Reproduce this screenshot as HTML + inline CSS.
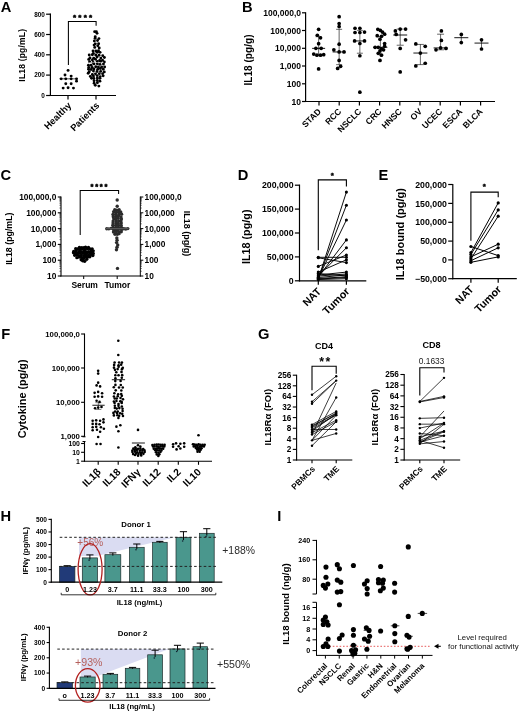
<!DOCTYPE html><html><head><meta charset="utf-8"><title>Figure</title>
<style>html,body{margin:0;padding:0;background:#fff}svg{display:block}text{font-family:'Liberation Sans', Arial, sans-serif}</style></head><body>
<svg width="520" height="712" viewBox="0 0 520 712" font-family='"Liberation Sans", Arial, sans-serif'>
<rect width="520" height="712" fill="#fff"/>
<text x="0.80" y="11.80" font-size="14.7" font-weight="bold" text-anchor="start" fill="#000" >A</text>
<line x1="50.40" y1="13.60" x2="50.40" y2="96.10" stroke="#000" stroke-width="1.2" />
<line x1="46.10" y1="14.20" x2="50.40" y2="14.20" stroke="#000" stroke-width="1.2" />
<text x="44.90" y="16.50" font-size="6.4" font-weight="bold" text-anchor="end" fill="#000" >800</text>
<line x1="46.10" y1="34.50" x2="50.40" y2="34.50" stroke="#000" stroke-width="1.2" />
<text x="44.90" y="36.80" font-size="6.4" font-weight="bold" text-anchor="end" fill="#000" >600</text>
<line x1="46.10" y1="54.80" x2="50.40" y2="54.80" stroke="#000" stroke-width="1.2" />
<text x="44.90" y="57.10" font-size="6.4" font-weight="bold" text-anchor="end" fill="#000" >400</text>
<line x1="46.10" y1="75.10" x2="50.40" y2="75.10" stroke="#000" stroke-width="1.2" />
<text x="44.90" y="77.40" font-size="6.4" font-weight="bold" text-anchor="end" fill="#000" >200</text>
<line x1="46.10" y1="95.50" x2="50.40" y2="95.50" stroke="#000" stroke-width="1.2" />
<text x="44.90" y="97.80" font-size="6.4" font-weight="bold" text-anchor="end" fill="#000" >0</text>
<line x1="49.80" y1="95.50" x2="116.00" y2="95.50" stroke="#000" stroke-width="1.2" />
<line x1="68.00" y1="95.50" x2="68.00" y2="99.50" stroke="#000" stroke-width="1.2" />
<line x1="96.00" y1="95.50" x2="96.00" y2="99.50" stroke="#000" stroke-width="1.2" />
<text x="25.00" y="55.20" font-size="8.5" font-weight="bold" text-anchor="middle" fill="#000" transform="rotate(-90 25.00 55.20)" letter-spacing="0.2">IL18 (pg/mL)</text>
<text x="72.00" y="106.00" font-size="9.4" font-weight="bold" text-anchor="end" fill="#000" transform="rotate(-45 72.00 106.00)" >Healthy</text>
<text x="100.00" y="106.00" font-size="9.4" font-weight="bold" text-anchor="end" fill="#000" transform="rotate(-45 100.00 106.00)" >Patients</text>
<polyline points="68.40,65.00 68.40,21.40 96.10,21.40 96.10,25.80" fill="none" stroke="#000" stroke-width="1.05" />
<text x="74.60" y="20.00" font-size="8" font-weight="bold" text-anchor="middle" fill="#000" stroke="#000" stroke-width="0.5">*</text>
<text x="79.90" y="20.00" font-size="8" font-weight="bold" text-anchor="middle" fill="#000" stroke="#000" stroke-width="0.5">*</text>
<text x="85.20" y="20.00" font-size="8" font-weight="bold" text-anchor="middle" fill="#000" stroke="#000" stroke-width="0.5">*</text>
<text x="90.50" y="20.00" font-size="8" font-weight="bold" text-anchor="middle" fill="#000" stroke="#000" stroke-width="0.5">*</text>
<circle cx="68.08" cy="70.38" r="1.45" fill="#000"/>
<circle cx="65.00" cy="75.00" r="1.45" fill="#000"/>
<circle cx="71.15" cy="76.08" r="1.45" fill="#000"/>
<circle cx="61.15" cy="78.85" r="1.45" fill="#000"/>
<circle cx="65.77" cy="78.85" r="1.45" fill="#000"/>
<circle cx="71.15" cy="78.85" r="1.45" fill="#000"/>
<circle cx="76.54" cy="78.85" r="1.45" fill="#000"/>
<circle cx="76.54" cy="81.15" r="1.45" fill="#000"/>
<circle cx="65.77" cy="83.77" r="1.45" fill="#000"/>
<circle cx="71.15" cy="83.77" r="1.45" fill="#000"/>
<circle cx="63.15" cy="88.08" r="1.45" fill="#000"/>
<circle cx="68.08" cy="87.77" r="1.45" fill="#000"/>
<circle cx="73.46" cy="88.08" r="1.45" fill="#000"/>
<line x1="59.62" y1="78.85" x2="77.62" y2="78.85" stroke="#000" stroke-width="0.7" />
<circle cx="94.64" cy="31.66" r="1.45" fill="#000"/>
<circle cx="96.37" cy="31.75" r="1.45" fill="#000"/>
<circle cx="97.03" cy="33.34" r="1.45" fill="#000"/>
<circle cx="95.21" cy="36.77" r="1.45" fill="#000"/>
<circle cx="95.12" cy="38.28" r="1.45" fill="#000"/>
<circle cx="98.94" cy="38.61" r="1.45" fill="#000"/>
<circle cx="94.34" cy="40.97" r="1.45" fill="#000"/>
<circle cx="97.54" cy="40.51" r="1.45" fill="#000"/>
<circle cx="95.33" cy="43.87" r="1.45" fill="#000"/>
<circle cx="98.62" cy="43.69" r="1.45" fill="#000"/>
<circle cx="94.06" cy="45.09" r="1.45" fill="#000"/>
<circle cx="97.77" cy="45.83" r="1.45" fill="#000"/>
<circle cx="94.73" cy="47.39" r="1.45" fill="#000"/>
<circle cx="99.24" cy="48.01" r="1.45" fill="#000"/>
<circle cx="93.05" cy="50.93" r="1.45" fill="#000"/>
<circle cx="95.91" cy="50.99" r="1.45" fill="#000"/>
<circle cx="98.46" cy="50.82" r="1.45" fill="#000"/>
<circle cx="93.33" cy="53.36" r="1.45" fill="#000"/>
<circle cx="97.28" cy="52.19" r="1.45" fill="#000"/>
<circle cx="100.05" cy="52.35" r="1.45" fill="#000"/>
<circle cx="89.24" cy="55.01" r="1.45" fill="#000"/>
<circle cx="92.37" cy="54.82" r="1.45" fill="#000"/>
<circle cx="95.71" cy="54.94" r="1.45" fill="#000"/>
<circle cx="99.01" cy="55.22" r="1.45" fill="#000"/>
<circle cx="102.71" cy="55.67" r="1.45" fill="#000"/>
<circle cx="89.99" cy="58.05" r="1.45" fill="#000"/>
<circle cx="93.71" cy="58.14" r="1.45" fill="#000"/>
<circle cx="97.07" cy="56.98" r="1.45" fill="#000"/>
<circle cx="100.81" cy="58.10" r="1.45" fill="#000"/>
<circle cx="104.39" cy="57.55" r="1.45" fill="#000"/>
<circle cx="88.71" cy="59.40" r="1.45" fill="#000"/>
<circle cx="92.43" cy="59.90" r="1.45" fill="#000"/>
<circle cx="95.48" cy="59.19" r="1.45" fill="#000"/>
<circle cx="99.65" cy="60.49" r="1.45" fill="#000"/>
<circle cx="102.49" cy="60.22" r="1.45" fill="#000"/>
<circle cx="89.60" cy="61.66" r="1.45" fill="#000"/>
<circle cx="93.09" cy="62.53" r="1.45" fill="#000"/>
<circle cx="97.27" cy="61.51" r="1.45" fill="#000"/>
<circle cx="100.62" cy="61.51" r="1.45" fill="#000"/>
<circle cx="104.33" cy="61.91" r="1.45" fill="#000"/>
<circle cx="88.44" cy="65.17" r="1.45" fill="#000"/>
<circle cx="91.12" cy="65.20" r="1.45" fill="#000"/>
<circle cx="93.98" cy="63.91" r="1.45" fill="#000"/>
<circle cx="97.33" cy="63.84" r="1.45" fill="#000"/>
<circle cx="99.98" cy="64.37" r="1.45" fill="#000"/>
<circle cx="103.45" cy="64.02" r="1.45" fill="#000"/>
<circle cx="88.78" cy="67.36" r="1.45" fill="#000"/>
<circle cx="92.11" cy="67.49" r="1.45" fill="#000"/>
<circle cx="95.76" cy="66.68" r="1.45" fill="#000"/>
<circle cx="98.39" cy="66.88" r="1.45" fill="#000"/>
<circle cx="101.64" cy="66.98" r="1.45" fill="#000"/>
<circle cx="104.63" cy="67.02" r="1.45" fill="#000"/>
<circle cx="88.54" cy="69.21" r="1.45" fill="#000"/>
<circle cx="91.07" cy="69.51" r="1.45" fill="#000"/>
<circle cx="93.92" cy="68.92" r="1.45" fill="#000"/>
<circle cx="97.70" cy="69.23" r="1.45" fill="#000"/>
<circle cx="100.31" cy="68.52" r="1.45" fill="#000"/>
<circle cx="103.22" cy="69.31" r="1.45" fill="#000"/>
<circle cx="89.25" cy="71.71" r="1.45" fill="#000"/>
<circle cx="93.45" cy="70.93" r="1.45" fill="#000"/>
<circle cx="97.03" cy="71.50" r="1.45" fill="#000"/>
<circle cx="100.66" cy="71.34" r="1.45" fill="#000"/>
<circle cx="104.28" cy="71.88" r="1.45" fill="#000"/>
<circle cx="88.18" cy="73.28" r="1.45" fill="#000"/>
<circle cx="92.35" cy="74.55" r="1.45" fill="#000"/>
<circle cx="95.45" cy="73.84" r="1.45" fill="#000"/>
<circle cx="99.32" cy="73.65" r="1.45" fill="#000"/>
<circle cx="102.61" cy="73.64" r="1.45" fill="#000"/>
<circle cx="90.31" cy="76.38" r="1.45" fill="#000"/>
<circle cx="93.47" cy="76.08" r="1.45" fill="#000"/>
<circle cx="97.17" cy="75.59" r="1.45" fill="#000"/>
<circle cx="100.20" cy="76.58" r="1.45" fill="#000"/>
<circle cx="103.17" cy="75.86" r="1.45" fill="#000"/>
<circle cx="91.58" cy="78.23" r="1.45" fill="#000"/>
<circle cx="93.91" cy="78.51" r="1.45" fill="#000"/>
<circle cx="97.37" cy="78.04" r="1.45" fill="#000"/>
<circle cx="99.95" cy="78.37" r="1.45" fill="#000"/>
<circle cx="94.05" cy="80.86" r="1.45" fill="#000"/>
<circle cx="97.26" cy="80.49" r="1.45" fill="#000"/>
<circle cx="99.92" cy="81.16" r="1.45" fill="#000"/>
<circle cx="94.12" cy="83.23" r="1.45" fill="#000"/>
<circle cx="97.39" cy="82.77" r="1.45" fill="#000"/>
<circle cx="95.28" cy="85.22" r="1.45" fill="#000"/>
<circle cx="98.85" cy="86.12" r="1.45" fill="#000"/>
<line x1="89.00" y1="62.50" x2="103.50" y2="62.50" stroke="#ddd" stroke-width="0.5" />
<text x="242.00" y="11.70" font-size="14.7" font-weight="bold" text-anchor="start" fill="#000" >B</text>
<line x1="305.60" y1="12.20" x2="305.60" y2="102.10" stroke="#000" stroke-width="1.2" />
<line x1="302.00" y1="12.80" x2="305.60" y2="12.80" stroke="#000" stroke-width="1.2" />
<text x="301.00" y="15.86" font-size="8.5" font-weight="bold" text-anchor="end" fill="#000" >100,000,0</text>
<line x1="302.00" y1="30.50" x2="305.60" y2="30.50" stroke="#000" stroke-width="1.2" />
<text x="301.00" y="33.56" font-size="8.5" font-weight="bold" text-anchor="end" fill="#000" >100,000</text>
<line x1="302.00" y1="48.30" x2="305.60" y2="48.30" stroke="#000" stroke-width="1.2" />
<text x="301.00" y="51.36" font-size="8.5" font-weight="bold" text-anchor="end" fill="#000" >10,000</text>
<line x1="302.00" y1="66.00" x2="305.60" y2="66.00" stroke="#000" stroke-width="1.2" />
<text x="301.00" y="69.06" font-size="8.5" font-weight="bold" text-anchor="end" fill="#000" >1,000</text>
<line x1="302.00" y1="83.80" x2="305.60" y2="83.80" stroke="#000" stroke-width="1.2" />
<text x="301.00" y="86.86" font-size="8.5" font-weight="bold" text-anchor="end" fill="#000" >100</text>
<line x1="302.00" y1="101.50" x2="305.60" y2="101.50" stroke="#000" stroke-width="1.2" />
<text x="301.00" y="104.56" font-size="8.5" font-weight="bold" text-anchor="end" fill="#000" >10</text>
<line x1="305.00" y1="101.50" x2="495.00" y2="101.50" stroke="#000" stroke-width="1.2" />
<line x1="319.00" y1="101.50" x2="319.00" y2="105.50" stroke="#000" stroke-width="1.2" />
<text x="321.60" y="112.00" font-size="8.6" font-weight="bold" text-anchor="end" fill="#000" transform="rotate(-45 321.60 112.00)" >STAD</text>
<line x1="339.20" y1="101.50" x2="339.20" y2="105.50" stroke="#000" stroke-width="1.2" />
<text x="341.80" y="112.00" font-size="8.6" font-weight="bold" text-anchor="end" fill="#000" transform="rotate(-45 341.80 112.00)" >RCC</text>
<line x1="359.40" y1="101.50" x2="359.40" y2="105.50" stroke="#000" stroke-width="1.2" />
<text x="362.00" y="112.00" font-size="8.6" font-weight="bold" text-anchor="end" fill="#000" transform="rotate(-45 362.00 112.00)" >NSCLC</text>
<line x1="379.60" y1="101.50" x2="379.60" y2="105.50" stroke="#000" stroke-width="1.2" />
<text x="382.20" y="112.00" font-size="8.6" font-weight="bold" text-anchor="end" fill="#000" transform="rotate(-45 382.20 112.00)" >CRC</text>
<line x1="399.80" y1="101.50" x2="399.80" y2="105.50" stroke="#000" stroke-width="1.2" />
<text x="402.40" y="112.00" font-size="8.6" font-weight="bold" text-anchor="end" fill="#000" transform="rotate(-45 402.40 112.00)" >HNSC</text>
<line x1="420.00" y1="101.50" x2="420.00" y2="105.50" stroke="#000" stroke-width="1.2" />
<text x="422.60" y="112.00" font-size="8.6" font-weight="bold" text-anchor="end" fill="#000" transform="rotate(-45 422.60 112.00)" >OV</text>
<line x1="440.20" y1="101.50" x2="440.20" y2="105.50" stroke="#000" stroke-width="1.2" />
<text x="442.80" y="112.00" font-size="8.6" font-weight="bold" text-anchor="end" fill="#000" transform="rotate(-45 442.80 112.00)" >UCEC</text>
<line x1="460.40" y1="101.50" x2="460.40" y2="105.50" stroke="#000" stroke-width="1.2" />
<text x="463.00" y="112.00" font-size="8.6" font-weight="bold" text-anchor="end" fill="#000" transform="rotate(-45 463.00 112.00)" >ESCA</text>
<line x1="480.60" y1="101.50" x2="480.60" y2="105.50" stroke="#000" stroke-width="1.2" />
<text x="483.20" y="112.00" font-size="8.6" font-weight="bold" text-anchor="end" fill="#000" transform="rotate(-45 483.20 112.00)" >BLCA</text>
<text x="251.70" y="60.00" font-size="10.1" font-weight="bold" text-anchor="middle" fill="#000" transform="rotate(-90 251.70 60.00)" >IL18 (pg/g)</text>
<line x1="318.62" y1="36.73" x2="318.62" y2="55.14" stroke="#222" stroke-width="0.7" />
<line x1="312.12" y1="48.37" x2="325.12" y2="48.37" stroke="#000" stroke-width="0.9" />
<line x1="315.62" y1="36.73" x2="321.62" y2="36.73" stroke="#000" stroke-width="0.6" />
<line x1="315.62" y1="55.14" x2="321.62" y2="55.14" stroke="#000" stroke-width="0.6" />
<line x1="339.14" y1="29.33" x2="339.14" y2="64.66" stroke="#222" stroke-width="0.7" />
<line x1="332.64" y1="51.96" x2="345.64" y2="51.96" stroke="#000" stroke-width="0.9" />
<line x1="336.14" y1="29.33" x2="342.14" y2="29.33" stroke="#000" stroke-width="0.6" />
<line x1="336.14" y1="64.66" x2="342.14" y2="64.66" stroke="#000" stroke-width="0.6" />
<line x1="359.87" y1="30.39" x2="359.87" y2="53.23" stroke="#222" stroke-width="0.7" />
<line x1="353.87" y1="40.96" x2="365.87" y2="40.96" stroke="#000" stroke-width="0.9" />
<line x1="356.87" y1="30.39" x2="362.87" y2="30.39" stroke="#000" stroke-width="0.6" />
<line x1="356.87" y1="53.23" x2="362.87" y2="53.23" stroke="#000" stroke-width="0.6" />
<line x1="380.39" y1="36.73" x2="380.39" y2="54.71" stroke="#222" stroke-width="0.7" />
<line x1="373.39" y1="47.31" x2="387.39" y2="47.31" stroke="#000" stroke-width="0.9" />
<line x1="377.39" y1="36.73" x2="383.39" y2="36.73" stroke="#000" stroke-width="0.6" />
<line x1="377.39" y1="54.71" x2="383.39" y2="54.71" stroke="#000" stroke-width="0.6" />
<line x1="400.19" y1="29.08" x2="400.19" y2="45.23" stroke="#222" stroke-width="0.7" />
<line x1="393.19" y1="35.00" x2="407.19" y2="35.00" stroke="#000" stroke-width="0.9" />
<line x1="396.69" y1="29.08" x2="403.69" y2="29.08" stroke="#000" stroke-width="0.6" />
<line x1="396.69" y1="45.23" x2="403.69" y2="45.23" stroke="#000" stroke-width="0.6" />
<line x1="420.39" y1="44.43" x2="420.39" y2="64.62" stroke="#222" stroke-width="0.7" />
<line x1="413.39" y1="53.04" x2="427.39" y2="53.04" stroke="#000" stroke-width="0.9" />
<line x1="416.89" y1="44.43" x2="423.89" y2="44.43" stroke="#000" stroke-width="0.6" />
<line x1="416.89" y1="64.62" x2="423.89" y2="64.62" stroke="#000" stroke-width="0.6" />
<line x1="440.58" y1="34.19" x2="440.58" y2="49.81" stroke="#222" stroke-width="0.7" />
<line x1="433.58" y1="47.93" x2="447.58" y2="47.93" stroke="#000" stroke-width="0.9" />
<line x1="437.08" y1="34.19" x2="444.08" y2="34.19" stroke="#000" stroke-width="0.6" />
<line x1="437.08" y1="49.81" x2="444.08" y2="49.81" stroke="#000" stroke-width="0.6" />
<line x1="461.31" y1="34.46" x2="461.31" y2="42.54" stroke="#222" stroke-width="0.7" />
<line x1="454.31" y1="37.70" x2="468.31" y2="37.70" stroke="#000" stroke-width="0.9" />
<line x1="481.51" y1="39.85" x2="481.51" y2="49.00" stroke="#222" stroke-width="0.7" />
<line x1="474.51" y1="43.08" x2="488.51" y2="43.08" stroke="#000" stroke-width="0.9" />
<circle cx="318.62" cy="29.33" r="1.85" fill="#000"/>
<circle cx="317.35" cy="35.25" r="1.85" fill="#000"/>
<circle cx="320.52" cy="37.79" r="1.85" fill="#000"/>
<circle cx="318.62" cy="43.71" r="1.85" fill="#000"/>
<circle cx="315.87" cy="48.37" r="1.85" fill="#000"/>
<circle cx="321.16" cy="48.37" r="1.85" fill="#000"/>
<circle cx="313.75" cy="54.08" r="1.85" fill="#000"/>
<circle cx="316.92" cy="55.14" r="1.85" fill="#000"/>
<circle cx="320.52" cy="55.14" r="1.85" fill="#000"/>
<circle cx="323.69" cy="54.71" r="1.85" fill="#000"/>
<circle cx="318.62" cy="68.89" r="1.85" fill="#000"/>
<circle cx="339.14" cy="16.64" r="1.85" fill="#000"/>
<circle cx="339.14" cy="23.62" r="1.85" fill="#000"/>
<circle cx="339.14" cy="26.58" r="1.85" fill="#000"/>
<circle cx="339.14" cy="44.14" r="1.85" fill="#000"/>
<circle cx="333.85" cy="49.85" r="1.85" fill="#000"/>
<circle cx="339.14" cy="51.96" r="1.85" fill="#000"/>
<circle cx="344.00" cy="51.96" r="1.85" fill="#000"/>
<circle cx="339.14" cy="60.43" r="1.85" fill="#000"/>
<circle cx="337.66" cy="68.47" r="1.85" fill="#000"/>
<circle cx="340.62" cy="66.35" r="1.85" fill="#000"/>
<circle cx="355.00" cy="28.27" r="1.85" fill="#000"/>
<circle cx="359.87" cy="28.27" r="1.85" fill="#000"/>
<circle cx="355.00" cy="32.50" r="1.85" fill="#000"/>
<circle cx="359.87" cy="32.50" r="1.85" fill="#000"/>
<circle cx="364.52" cy="32.08" r="1.85" fill="#000"/>
<circle cx="354.58" cy="40.96" r="1.85" fill="#000"/>
<circle cx="359.87" cy="43.50" r="1.85" fill="#000"/>
<circle cx="364.52" cy="40.96" r="1.85" fill="#000"/>
<circle cx="359.87" cy="55.77" r="1.85" fill="#000"/>
<circle cx="359.87" cy="92.16" r="1.85" fill="#000"/>
<circle cx="377.85" cy="29.33" r="1.85" fill="#000"/>
<circle cx="380.39" cy="30.39" r="1.85" fill="#000"/>
<circle cx="382.50" cy="32.08" r="1.85" fill="#000"/>
<circle cx="384.62" cy="34.19" r="1.85" fill="#000"/>
<circle cx="377.22" cy="35.67" r="1.85" fill="#000"/>
<circle cx="381.45" cy="36.31" r="1.85" fill="#000"/>
<circle cx="379.97" cy="39.27" r="1.85" fill="#000"/>
<circle cx="384.62" cy="43.50" r="1.85" fill="#000"/>
<circle cx="375.10" cy="47.31" r="1.85" fill="#000"/>
<circle cx="378.27" cy="47.31" r="1.85" fill="#000"/>
<circle cx="381.45" cy="48.79" r="1.85" fill="#000"/>
<circle cx="384.62" cy="46.25" r="1.85" fill="#000"/>
<circle cx="379.97" cy="50.91" r="1.85" fill="#000"/>
<circle cx="383.56" cy="49.85" r="1.85" fill="#000"/>
<circle cx="378.27" cy="53.23" r="1.85" fill="#000"/>
<circle cx="381.45" cy="55.14" r="1.85" fill="#000"/>
<circle cx="379.97" cy="60.43" r="1.85" fill="#000"/>
<circle cx="395.35" cy="30.96" r="1.85" fill="#000"/>
<circle cx="400.19" cy="29.08" r="1.85" fill="#000"/>
<circle cx="405.58" cy="29.08" r="1.85" fill="#000"/>
<circle cx="396.16" cy="34.46" r="1.85" fill="#000"/>
<circle cx="405.58" cy="39.85" r="1.85" fill="#000"/>
<circle cx="400.19" cy="48.47" r="1.85" fill="#000"/>
<circle cx="400.19" cy="71.89" r="1.85" fill="#000"/>
<circle cx="415.81" cy="43.89" r="1.85" fill="#000"/>
<circle cx="425.23" cy="46.31" r="1.85" fill="#000"/>
<circle cx="420.39" cy="53.04" r="1.85" fill="#000"/>
<circle cx="415.81" cy="65.97" r="1.85" fill="#000"/>
<circle cx="425.23" cy="63.27" r="1.85" fill="#000"/>
<circle cx="441.39" cy="30.96" r="1.85" fill="#000"/>
<circle cx="441.39" cy="40.39" r="1.85" fill="#000"/>
<circle cx="436.00" cy="49.81" r="1.85" fill="#000"/>
<circle cx="440.58" cy="47.93" r="1.85" fill="#000"/>
<circle cx="445.97" cy="48.47" r="1.85" fill="#000"/>
<circle cx="461.31" cy="34.46" r="1.85" fill="#000"/>
<circle cx="461.31" cy="42.54" r="1.85" fill="#000"/>
<circle cx="481.51" cy="39.85" r="1.85" fill="#000"/>
<circle cx="481.51" cy="49.00" r="1.85" fill="#000"/>
<text x="0.50" y="179.70" font-size="14.7" font-weight="bold" text-anchor="start" fill="#000" >C</text>
<line x1="61.00" y1="196.45" x2="61.00" y2="276.55" stroke="#000" stroke-width="1.1" />
<line x1="57.80" y1="197.00" x2="61.00" y2="197.00" stroke="#000" stroke-width="1.1" />
<text x="56.30" y="200.01" font-size="8.35" font-weight="bold" text-anchor="end" fill="#000" >100,000,0</text>
<line x1="57.80" y1="212.80" x2="61.00" y2="212.80" stroke="#000" stroke-width="1.1" />
<text x="56.30" y="215.81" font-size="8.35" font-weight="bold" text-anchor="end" fill="#000" >100,000</text>
<line x1="57.80" y1="228.60" x2="61.00" y2="228.60" stroke="#000" stroke-width="1.1" />
<text x="56.30" y="231.61" font-size="8.35" font-weight="bold" text-anchor="end" fill="#000" >10,000</text>
<line x1="57.80" y1="244.40" x2="61.00" y2="244.40" stroke="#000" stroke-width="1.1" />
<text x="56.30" y="247.41" font-size="8.35" font-weight="bold" text-anchor="end" fill="#000" >1,000</text>
<line x1="57.80" y1="260.20" x2="61.00" y2="260.20" stroke="#000" stroke-width="1.1" />
<text x="56.30" y="263.21" font-size="8.35" font-weight="bold" text-anchor="end" fill="#000" >100</text>
<line x1="57.80" y1="276.00" x2="61.00" y2="276.00" stroke="#000" stroke-width="1.1" />
<text x="56.30" y="279.01" font-size="8.35" font-weight="bold" text-anchor="end" fill="#000" >10</text>
<line x1="60.50" y1="276.00" x2="140.80" y2="276.00" stroke="#000" stroke-width="1.1" />
<line x1="140.30" y1="196.50" x2="140.30" y2="276.50" stroke="#000" stroke-width="1" />
<line x1="140.30" y1="197.00" x2="143.30" y2="197.00" stroke="#000" stroke-width="1" />
<text x="144.50" y="200.00" font-size="8.35" font-weight="bold" text-anchor="start" fill="#000" >100,000,0</text>
<line x1="140.30" y1="212.80" x2="143.30" y2="212.80" stroke="#000" stroke-width="1" />
<text x="144.50" y="215.80" font-size="8.35" font-weight="bold" text-anchor="start" fill="#000" >100,000</text>
<line x1="140.30" y1="228.60" x2="143.30" y2="228.60" stroke="#000" stroke-width="1" />
<text x="144.50" y="231.60" font-size="8.35" font-weight="bold" text-anchor="start" fill="#000" >10,000</text>
<line x1="140.30" y1="244.40" x2="143.30" y2="244.40" stroke="#000" stroke-width="1" />
<text x="144.50" y="247.40" font-size="8.35" font-weight="bold" text-anchor="start" fill="#000" >1,000</text>
<line x1="140.30" y1="260.20" x2="143.30" y2="260.20" stroke="#000" stroke-width="1" />
<text x="144.50" y="263.20" font-size="8.35" font-weight="bold" text-anchor="start" fill="#000" >100</text>
<line x1="140.30" y1="276.00" x2="143.30" y2="276.00" stroke="#000" stroke-width="1" />
<text x="144.50" y="279.00" font-size="8.35" font-weight="bold" text-anchor="start" fill="#000" >10</text>
<line x1="61.00" y1="208.04" x2="59.40" y2="208.04" stroke="#000" stroke-width="0.5" />
<line x1="61.00" y1="205.26" x2="59.40" y2="205.26" stroke="#000" stroke-width="0.5" />
<line x1="61.00" y1="203.29" x2="59.40" y2="203.29" stroke="#000" stroke-width="0.5" />
<line x1="61.00" y1="201.76" x2="59.40" y2="201.76" stroke="#000" stroke-width="0.5" />
<line x1="61.00" y1="200.51" x2="59.40" y2="200.51" stroke="#000" stroke-width="0.5" />
<line x1="61.00" y1="199.45" x2="59.40" y2="199.45" stroke="#000" stroke-width="0.5" />
<line x1="61.00" y1="198.53" x2="59.40" y2="198.53" stroke="#000" stroke-width="0.5" />
<line x1="61.00" y1="197.72" x2="59.40" y2="197.72" stroke="#000" stroke-width="0.5" />
<line x1="61.00" y1="223.84" x2="59.40" y2="223.84" stroke="#000" stroke-width="0.5" />
<line x1="61.00" y1="221.06" x2="59.40" y2="221.06" stroke="#000" stroke-width="0.5" />
<line x1="61.00" y1="219.09" x2="59.40" y2="219.09" stroke="#000" stroke-width="0.5" />
<line x1="61.00" y1="217.56" x2="59.40" y2="217.56" stroke="#000" stroke-width="0.5" />
<line x1="61.00" y1="216.31" x2="59.40" y2="216.31" stroke="#000" stroke-width="0.5" />
<line x1="61.00" y1="215.25" x2="59.40" y2="215.25" stroke="#000" stroke-width="0.5" />
<line x1="61.00" y1="214.33" x2="59.40" y2="214.33" stroke="#000" stroke-width="0.5" />
<line x1="61.00" y1="213.52" x2="59.40" y2="213.52" stroke="#000" stroke-width="0.5" />
<line x1="61.00" y1="239.64" x2="59.40" y2="239.64" stroke="#000" stroke-width="0.5" />
<line x1="61.00" y1="236.86" x2="59.40" y2="236.86" stroke="#000" stroke-width="0.5" />
<line x1="61.00" y1="234.89" x2="59.40" y2="234.89" stroke="#000" stroke-width="0.5" />
<line x1="61.00" y1="233.36" x2="59.40" y2="233.36" stroke="#000" stroke-width="0.5" />
<line x1="61.00" y1="232.11" x2="59.40" y2="232.11" stroke="#000" stroke-width="0.5" />
<line x1="61.00" y1="231.05" x2="59.40" y2="231.05" stroke="#000" stroke-width="0.5" />
<line x1="61.00" y1="230.13" x2="59.40" y2="230.13" stroke="#000" stroke-width="0.5" />
<line x1="61.00" y1="229.32" x2="59.40" y2="229.32" stroke="#000" stroke-width="0.5" />
<line x1="61.00" y1="255.44" x2="59.40" y2="255.44" stroke="#000" stroke-width="0.5" />
<line x1="61.00" y1="252.66" x2="59.40" y2="252.66" stroke="#000" stroke-width="0.5" />
<line x1="61.00" y1="250.69" x2="59.40" y2="250.69" stroke="#000" stroke-width="0.5" />
<line x1="61.00" y1="249.16" x2="59.40" y2="249.16" stroke="#000" stroke-width="0.5" />
<line x1="61.00" y1="247.91" x2="59.40" y2="247.91" stroke="#000" stroke-width="0.5" />
<line x1="61.00" y1="246.85" x2="59.40" y2="246.85" stroke="#000" stroke-width="0.5" />
<line x1="61.00" y1="245.93" x2="59.40" y2="245.93" stroke="#000" stroke-width="0.5" />
<line x1="61.00" y1="245.12" x2="59.40" y2="245.12" stroke="#000" stroke-width="0.5" />
<line x1="61.00" y1="271.24" x2="59.40" y2="271.24" stroke="#000" stroke-width="0.5" />
<line x1="61.00" y1="268.46" x2="59.40" y2="268.46" stroke="#000" stroke-width="0.5" />
<line x1="61.00" y1="266.49" x2="59.40" y2="266.49" stroke="#000" stroke-width="0.5" />
<line x1="61.00" y1="264.96" x2="59.40" y2="264.96" stroke="#000" stroke-width="0.5" />
<line x1="61.00" y1="263.71" x2="59.40" y2="263.71" stroke="#000" stroke-width="0.5" />
<line x1="61.00" y1="262.65" x2="59.40" y2="262.65" stroke="#000" stroke-width="0.5" />
<line x1="61.00" y1="261.73" x2="59.40" y2="261.73" stroke="#000" stroke-width="0.5" />
<line x1="61.00" y1="260.92" x2="59.40" y2="260.92" stroke="#000" stroke-width="0.5" />
<line x1="140.30" y1="208.04" x2="141.90" y2="208.04" stroke="#000" stroke-width="0.5" />
<line x1="140.30" y1="205.26" x2="141.90" y2="205.26" stroke="#000" stroke-width="0.5" />
<line x1="140.30" y1="203.29" x2="141.90" y2="203.29" stroke="#000" stroke-width="0.5" />
<line x1="140.30" y1="201.76" x2="141.90" y2="201.76" stroke="#000" stroke-width="0.5" />
<line x1="140.30" y1="200.51" x2="141.90" y2="200.51" stroke="#000" stroke-width="0.5" />
<line x1="140.30" y1="199.45" x2="141.90" y2="199.45" stroke="#000" stroke-width="0.5" />
<line x1="140.30" y1="198.53" x2="141.90" y2="198.53" stroke="#000" stroke-width="0.5" />
<line x1="140.30" y1="197.72" x2="141.90" y2="197.72" stroke="#000" stroke-width="0.5" />
<line x1="140.30" y1="223.84" x2="141.90" y2="223.84" stroke="#000" stroke-width="0.5" />
<line x1="140.30" y1="221.06" x2="141.90" y2="221.06" stroke="#000" stroke-width="0.5" />
<line x1="140.30" y1="219.09" x2="141.90" y2="219.09" stroke="#000" stroke-width="0.5" />
<line x1="140.30" y1="217.56" x2="141.90" y2="217.56" stroke="#000" stroke-width="0.5" />
<line x1="140.30" y1="216.31" x2="141.90" y2="216.31" stroke="#000" stroke-width="0.5" />
<line x1="140.30" y1="215.25" x2="141.90" y2="215.25" stroke="#000" stroke-width="0.5" />
<line x1="140.30" y1="214.33" x2="141.90" y2="214.33" stroke="#000" stroke-width="0.5" />
<line x1="140.30" y1="213.52" x2="141.90" y2="213.52" stroke="#000" stroke-width="0.5" />
<line x1="140.30" y1="239.64" x2="141.90" y2="239.64" stroke="#000" stroke-width="0.5" />
<line x1="140.30" y1="236.86" x2="141.90" y2="236.86" stroke="#000" stroke-width="0.5" />
<line x1="140.30" y1="234.89" x2="141.90" y2="234.89" stroke="#000" stroke-width="0.5" />
<line x1="140.30" y1="233.36" x2="141.90" y2="233.36" stroke="#000" stroke-width="0.5" />
<line x1="140.30" y1="232.11" x2="141.90" y2="232.11" stroke="#000" stroke-width="0.5" />
<line x1="140.30" y1="231.05" x2="141.90" y2="231.05" stroke="#000" stroke-width="0.5" />
<line x1="140.30" y1="230.13" x2="141.90" y2="230.13" stroke="#000" stroke-width="0.5" />
<line x1="140.30" y1="229.32" x2="141.90" y2="229.32" stroke="#000" stroke-width="0.5" />
<line x1="140.30" y1="255.44" x2="141.90" y2="255.44" stroke="#000" stroke-width="0.5" />
<line x1="140.30" y1="252.66" x2="141.90" y2="252.66" stroke="#000" stroke-width="0.5" />
<line x1="140.30" y1="250.69" x2="141.90" y2="250.69" stroke="#000" stroke-width="0.5" />
<line x1="140.30" y1="249.16" x2="141.90" y2="249.16" stroke="#000" stroke-width="0.5" />
<line x1="140.30" y1="247.91" x2="141.90" y2="247.91" stroke="#000" stroke-width="0.5" />
<line x1="140.30" y1="246.85" x2="141.90" y2="246.85" stroke="#000" stroke-width="0.5" />
<line x1="140.30" y1="245.93" x2="141.90" y2="245.93" stroke="#000" stroke-width="0.5" />
<line x1="140.30" y1="245.12" x2="141.90" y2="245.12" stroke="#000" stroke-width="0.5" />
<line x1="140.30" y1="271.24" x2="141.90" y2="271.24" stroke="#000" stroke-width="0.5" />
<line x1="140.30" y1="268.46" x2="141.90" y2="268.46" stroke="#000" stroke-width="0.5" />
<line x1="140.30" y1="266.49" x2="141.90" y2="266.49" stroke="#000" stroke-width="0.5" />
<line x1="140.30" y1="264.96" x2="141.90" y2="264.96" stroke="#000" stroke-width="0.5" />
<line x1="140.30" y1="263.71" x2="141.90" y2="263.71" stroke="#000" stroke-width="0.5" />
<line x1="140.30" y1="262.65" x2="141.90" y2="262.65" stroke="#000" stroke-width="0.5" />
<line x1="140.30" y1="261.73" x2="141.90" y2="261.73" stroke="#000" stroke-width="0.5" />
<line x1="140.30" y1="260.92" x2="141.90" y2="260.92" stroke="#000" stroke-width="0.5" />
<line x1="83.70" y1="276.00" x2="83.70" y2="279.00" stroke="#000" stroke-width="1" />
<line x1="117.20" y1="276.00" x2="117.20" y2="279.00" stroke="#000" stroke-width="1" />
<text x="84.70" y="288.30" font-size="8.5" font-weight="bold" text-anchor="middle" fill="#000" >Serum</text>
<text x="117.40" y="288.30" font-size="8.5" font-weight="bold" text-anchor="middle" fill="#000" >Tumor</text>
<text x="12.20" y="238.70" font-size="8.8" font-weight="bold" text-anchor="middle" fill="#000" transform="rotate(-90 12.20 238.70)" >IL18 (pg/mL)</text>
<text x="184.00" y="233.50" font-size="9.0" font-weight="bold" text-anchor="middle" fill="#000" transform="rotate(90 184.00 233.50)" >IL18 (pg/g)</text>
<polyline points="80.20,235.00 80.20,190.50 118.60,190.50 118.60,194.00" fill="none" stroke="#000" stroke-width="1.05" />
<text x="92.00" y="189.00" font-size="7.5" font-weight="bold" text-anchor="middle" fill="#000" stroke="#000" stroke-width="0.5">*</text>
<text x="96.70" y="189.00" font-size="7.5" font-weight="bold" text-anchor="middle" fill="#000" stroke="#000" stroke-width="0.5">*</text>
<text x="101.30" y="189.00" font-size="7.5" font-weight="bold" text-anchor="middle" fill="#000" stroke="#000" stroke-width="0.5">*</text>
<text x="105.90" y="189.00" font-size="7.5" font-weight="bold" text-anchor="middle" fill="#000" stroke="#000" stroke-width="0.5">*</text>
<circle cx="79.40" cy="247.54" r="1.7" fill="#000"/>
<circle cx="81.74" cy="247.74" r="1.7" fill="#000"/>
<circle cx="83.89" cy="247.72" r="1.7" fill="#000"/>
<circle cx="85.52" cy="247.27" r="1.7" fill="#000"/>
<circle cx="88.45" cy="247.45" r="1.7" fill="#000"/>
<circle cx="75.71" cy="248.81" r="1.7" fill="#000"/>
<circle cx="77.74" cy="248.95" r="1.7" fill="#000"/>
<circle cx="80.17" cy="249.27" r="1.7" fill="#000"/>
<circle cx="82.12" cy="248.92" r="1.7" fill="#000"/>
<circle cx="84.71" cy="249.62" r="1.7" fill="#000"/>
<circle cx="87.48" cy="248.86" r="1.7" fill="#000"/>
<circle cx="89.88" cy="248.84" r="1.7" fill="#000"/>
<circle cx="92.11" cy="248.83" r="1.7" fill="#000"/>
<circle cx="73.70" cy="251.57" r="1.7" fill="#000"/>
<circle cx="76.27" cy="250.92" r="1.7" fill="#000"/>
<circle cx="79.29" cy="251.57" r="1.7" fill="#000"/>
<circle cx="81.13" cy="251.66" r="1.7" fill="#000"/>
<circle cx="83.73" cy="251.38" r="1.7" fill="#000"/>
<circle cx="85.86" cy="251.64" r="1.7" fill="#000"/>
<circle cx="88.65" cy="251.67" r="1.7" fill="#000"/>
<circle cx="91.21" cy="251.00" r="1.7" fill="#000"/>
<circle cx="93.19" cy="250.87" r="1.7" fill="#000"/>
<circle cx="73.52" cy="252.77" r="1.7" fill="#000"/>
<circle cx="75.84" cy="253.30" r="1.7" fill="#000"/>
<circle cx="77.80" cy="253.38" r="1.7" fill="#000"/>
<circle cx="80.27" cy="253.01" r="1.7" fill="#000"/>
<circle cx="82.85" cy="253.18" r="1.7" fill="#000"/>
<circle cx="84.65" cy="253.18" r="1.7" fill="#000"/>
<circle cx="87.16" cy="252.76" r="1.7" fill="#000"/>
<circle cx="89.58" cy="252.72" r="1.7" fill="#000"/>
<circle cx="91.60" cy="253.54" r="1.7" fill="#000"/>
<circle cx="93.21" cy="253.49" r="1.7" fill="#000"/>
<circle cx="74.70" cy="255.28" r="1.7" fill="#000"/>
<circle cx="76.64" cy="254.75" r="1.7" fill="#000"/>
<circle cx="79.00" cy="255.66" r="1.7" fill="#000"/>
<circle cx="81.23" cy="255.46" r="1.7" fill="#000"/>
<circle cx="84.04" cy="255.64" r="1.7" fill="#000"/>
<circle cx="85.80" cy="255.05" r="1.7" fill="#000"/>
<circle cx="88.16" cy="255.48" r="1.7" fill="#000"/>
<circle cx="90.05" cy="255.45" r="1.7" fill="#000"/>
<circle cx="92.83" cy="255.56" r="1.7" fill="#000"/>
<circle cx="76.90" cy="257.65" r="1.7" fill="#000"/>
<circle cx="79.09" cy="257.04" r="1.7" fill="#000"/>
<circle cx="81.65" cy="257.62" r="1.7" fill="#000"/>
<circle cx="83.57" cy="257.62" r="1.7" fill="#000"/>
<circle cx="85.88" cy="257.01" r="1.7" fill="#000"/>
<circle cx="87.84" cy="256.88" r="1.7" fill="#000"/>
<circle cx="89.79" cy="256.85" r="1.7" fill="#000"/>
<circle cx="81.18" cy="259.70" r="1.7" fill="#000"/>
<circle cx="83.43" cy="258.75" r="1.7" fill="#000"/>
<circle cx="86.76" cy="259.23" r="1.7" fill="#000"/>
<circle cx="82.72" cy="260.74" r="1.7" fill="#000"/>
<circle cx="84.68" cy="261.33" r="1.7" fill="#000"/>
<circle cx="117.20" cy="200.00" r="1.7" fill="#2b2b2b"/>
<circle cx="117.20" cy="206.30" r="1.7" fill="#2b2b2b"/>
<circle cx="114.76" cy="209.72" r="1.7" fill="#2b2b2b"/>
<circle cx="116.76" cy="210.22" r="1.7" fill="#2b2b2b"/>
<circle cx="119.13" cy="209.79" r="1.7" fill="#2b2b2b"/>
<circle cx="113.64" cy="211.63" r="1.7" fill="#2b2b2b"/>
<circle cx="116.13" cy="212.45" r="1.7" fill="#2b2b2b"/>
<circle cx="118.63" cy="212.29" r="1.7" fill="#2b2b2b"/>
<circle cx="120.71" cy="211.93" r="1.7" fill="#2b2b2b"/>
<circle cx="112.95" cy="214.54" r="1.7" fill="#2b2b2b"/>
<circle cx="115.69" cy="214.15" r="1.7" fill="#2b2b2b"/>
<circle cx="119.00" cy="214.55" r="1.7" fill="#2b2b2b"/>
<circle cx="121.58" cy="214.15" r="1.7" fill="#2b2b2b"/>
<circle cx="113.29" cy="216.63" r="1.7" fill="#2b2b2b"/>
<circle cx="115.88" cy="216.19" r="1.7" fill="#2b2b2b"/>
<circle cx="118.40" cy="216.05" r="1.7" fill="#2b2b2b"/>
<circle cx="120.98" cy="216.89" r="1.7" fill="#2b2b2b"/>
<circle cx="113.76" cy="218.73" r="1.7" fill="#2b2b2b"/>
<circle cx="115.90" cy="218.44" r="1.7" fill="#2b2b2b"/>
<circle cx="118.09" cy="218.37" r="1.7" fill="#2b2b2b"/>
<circle cx="121.38" cy="218.97" r="1.7" fill="#2b2b2b"/>
<circle cx="113.16" cy="221.09" r="1.7" fill="#2b2b2b"/>
<circle cx="116.17" cy="220.99" r="1.7" fill="#2b2b2b"/>
<circle cx="118.66" cy="221.06" r="1.7" fill="#2b2b2b"/>
<circle cx="120.96" cy="221.00" r="1.7" fill="#2b2b2b"/>
<circle cx="113.08" cy="222.99" r="1.7" fill="#2b2b2b"/>
<circle cx="116.17" cy="223.19" r="1.7" fill="#2b2b2b"/>
<circle cx="118.29" cy="223.45" r="1.7" fill="#2b2b2b"/>
<circle cx="121.25" cy="223.08" r="1.7" fill="#2b2b2b"/>
<circle cx="112.81" cy="225.25" r="1.7" fill="#2b2b2b"/>
<circle cx="115.65" cy="225.37" r="1.7" fill="#2b2b2b"/>
<circle cx="118.46" cy="225.52" r="1.7" fill="#2b2b2b"/>
<circle cx="121.25" cy="225.50" r="1.7" fill="#2b2b2b"/>
<circle cx="113.15" cy="227.54" r="1.7" fill="#2b2b2b"/>
<circle cx="116.14" cy="227.73" r="1.7" fill="#2b2b2b"/>
<circle cx="118.35" cy="227.74" r="1.7" fill="#2b2b2b"/>
<circle cx="121.47" cy="227.59" r="1.7" fill="#2b2b2b"/>
<circle cx="113.78" cy="230.06" r="1.7" fill="#2b2b2b"/>
<circle cx="115.92" cy="229.63" r="1.7" fill="#2b2b2b"/>
<circle cx="118.17" cy="229.94" r="1.7" fill="#2b2b2b"/>
<circle cx="121.54" cy="229.58" r="1.7" fill="#2b2b2b"/>
<circle cx="113.49" cy="232.02" r="1.7" fill="#2b2b2b"/>
<circle cx="116.13" cy="231.47" r="1.7" fill="#2b2b2b"/>
<circle cx="118.78" cy="231.88" r="1.7" fill="#2b2b2b"/>
<circle cx="121.27" cy="231.72" r="1.7" fill="#2b2b2b"/>
<circle cx="114.99" cy="234.27" r="1.7" fill="#2b2b2b"/>
<circle cx="117.34" cy="234.22" r="1.7" fill="#2b2b2b"/>
<circle cx="119.06" cy="233.66" r="1.7" fill="#2b2b2b"/>
<circle cx="106.78" cy="228.82" r="1.7" fill="#2b2b2b"/>
<circle cx="108.81" cy="228.85" r="1.7" fill="#2b2b2b"/>
<circle cx="111.09" cy="228.33" r="1.7" fill="#2b2b2b"/>
<circle cx="113.15" cy="228.48" r="1.7" fill="#2b2b2b"/>
<circle cx="115.10" cy="228.41" r="1.7" fill="#2b2b2b"/>
<circle cx="117.33" cy="228.45" r="1.7" fill="#2b2b2b"/>
<circle cx="119.40" cy="228.33" r="1.7" fill="#2b2b2b"/>
<circle cx="121.63" cy="228.60" r="1.7" fill="#2b2b2b"/>
<circle cx="123.80" cy="228.77" r="1.7" fill="#2b2b2b"/>
<circle cx="125.78" cy="229.02" r="1.7" fill="#2b2b2b"/>
<circle cx="127.80" cy="228.62" r="1.7" fill="#2b2b2b"/>
<circle cx="116.85" cy="238.00" r="1.7" fill="#2b2b2b"/>
<circle cx="117.06" cy="240.30" r="1.7" fill="#2b2b2b"/>
<circle cx="116.58" cy="242.60" r="1.7" fill="#2b2b2b"/>
<circle cx="117.73" cy="245.00" r="1.7" fill="#2b2b2b"/>
<circle cx="117.00" cy="247.30" r="1.7" fill="#2b2b2b"/>
<circle cx="116.46" cy="249.80" r="1.7" fill="#2b2b2b"/>
<circle cx="117.50" cy="268.40" r="1.7" fill="#2b2b2b"/>
<line x1="106.00" y1="228.70" x2="128.50" y2="228.70" stroke="#999" stroke-width="0.5" />
<text x="237.80" y="179.50" font-size="14.7" font-weight="bold" text-anchor="start" fill="#000" >D</text>
<line x1="299.50" y1="184.60" x2="299.50" y2="281.40" stroke="#000" stroke-width="1.2" />
<line x1="294.90" y1="185.20" x2="299.50" y2="185.20" stroke="#000" stroke-width="1.2" />
<text x="293.60" y="188.35" font-size="8.75" font-weight="bold" text-anchor="end" fill="#000" >200,000</text>
<line x1="294.90" y1="209.10" x2="299.50" y2="209.10" stroke="#000" stroke-width="1.2" />
<text x="293.60" y="212.25" font-size="8.75" font-weight="bold" text-anchor="end" fill="#000" >150,000</text>
<line x1="294.90" y1="233.00" x2="299.50" y2="233.00" stroke="#000" stroke-width="1.2" />
<text x="293.60" y="236.15" font-size="8.75" font-weight="bold" text-anchor="end" fill="#000" >100,000</text>
<line x1="294.90" y1="256.90" x2="299.50" y2="256.90" stroke="#000" stroke-width="1.2" />
<text x="293.60" y="260.05" font-size="8.75" font-weight="bold" text-anchor="end" fill="#000" >50,000</text>
<line x1="294.90" y1="280.80" x2="299.50" y2="280.80" stroke="#000" stroke-width="1.2" />
<text x="293.60" y="283.95" font-size="8.75" font-weight="bold" text-anchor="end" fill="#000" >0</text>
<line x1="298.90" y1="280.80" x2="366.30" y2="280.80" stroke="#000" stroke-width="1.2" />
<line x1="318.30" y1="280.80" x2="318.30" y2="284.80" stroke="#000" stroke-width="1.2" />
<line x1="346.40" y1="280.80" x2="346.40" y2="284.80" stroke="#000" stroke-width="1.2" />
<text x="321.70" y="292.10" font-size="10.5" font-weight="bold" text-anchor="end" fill="#000" transform="rotate(-45 321.70 292.10)" >NAT</text>
<text x="350.30" y="292.10" font-size="10.8" font-weight="bold" text-anchor="end" fill="#000" transform="rotate(-45 350.30 292.10)" >Tumor</text>
<text x="250.40" y="236.80" font-size="10.8" font-weight="bold" text-anchor="middle" fill="#000" transform="rotate(-90 250.40 236.80)" >IL18 (pg/g)</text>
<polyline points="318.30,250.30 318.30,179.90 346.40,179.90 346.40,186.50" fill="none" stroke="#000" stroke-width="1.1" />
<text x="332.30" y="177.90" font-size="8" font-weight="bold" text-anchor="middle" fill="#000" stroke="#000" stroke-width="0.4">*</text>
<line x1="318.30" y1="279.00" x2="346.40" y2="192.10" stroke="#000" stroke-width="0.95" />
<line x1="318.30" y1="278.50" x2="346.40" y2="205.20" stroke="#000" stroke-width="0.95" />
<line x1="318.30" y1="278.00" x2="346.40" y2="220.00" stroke="#000" stroke-width="0.95" />
<line x1="318.30" y1="277.00" x2="346.40" y2="239.90" stroke="#000" stroke-width="0.95" />
<line x1="318.30" y1="276.00" x2="346.40" y2="247.80" stroke="#000" stroke-width="0.95" />
<line x1="318.30" y1="257.30" x2="346.40" y2="257.30" stroke="#000" stroke-width="0.95" />
<line x1="318.30" y1="257.80" x2="346.40" y2="262.60" stroke="#000" stroke-width="0.95" />
<line x1="318.30" y1="266.40" x2="346.40" y2="255.00" stroke="#000" stroke-width="0.95" />
<line x1="318.30" y1="272.10" x2="346.40" y2="259.80" stroke="#000" stroke-width="0.95" />
<line x1="318.30" y1="275.00" x2="346.40" y2="272.10" stroke="#000" stroke-width="0.95" />
<line x1="318.30" y1="277.50" x2="346.40" y2="275.00" stroke="#000" stroke-width="0.95" />
<line x1="318.30" y1="278.50" x2="346.40" y2="276.80" stroke="#000" stroke-width="0.95" />
<line x1="318.30" y1="279.50" x2="346.40" y2="278.70" stroke="#000" stroke-width="0.95" />
<line x1="318.30" y1="279.00" x2="346.40" y2="277.50" stroke="#000" stroke-width="0.95" />
<line x1="318.30" y1="273.50" x2="346.40" y2="276.00" stroke="#000" stroke-width="0.95" />
<line x1="318.30" y1="276.00" x2="346.40" y2="274.00" stroke="#000" stroke-width="0.95" />
<circle cx="318.30" cy="257.30" r="1.55" fill="#000"/>
<circle cx="318.30" cy="257.80" r="1.55" fill="#000"/>
<circle cx="318.30" cy="266.40" r="1.55" fill="#000"/>
<circle cx="318.30" cy="279.50" r="1.55" fill="#000"/>
<circle cx="318.30" cy="272.10" r="1.55" fill="#000"/>
<circle cx="318.30" cy="273.50" r="1.55" fill="#000"/>
<circle cx="318.30" cy="275.00" r="1.55" fill="#000"/>
<circle cx="318.30" cy="276.00" r="1.55" fill="#000"/>
<circle cx="318.30" cy="277.00" r="1.55" fill="#000"/>
<circle cx="318.30" cy="278.00" r="1.55" fill="#000"/>
<circle cx="318.30" cy="278.50" r="1.55" fill="#000"/>
<circle cx="318.30" cy="277.50" r="1.55" fill="#000"/>
<circle cx="318.30" cy="279.00" r="1.55" fill="#000"/>
<circle cx="346.40" cy="192.10" r="1.55" fill="#000"/>
<circle cx="346.40" cy="257.30" r="1.55" fill="#000"/>
<circle cx="346.40" cy="259.80" r="1.55" fill="#000"/>
<circle cx="346.40" cy="262.60" r="1.55" fill="#000"/>
<circle cx="346.40" cy="205.20" r="1.55" fill="#000"/>
<circle cx="346.40" cy="239.90" r="1.55" fill="#000"/>
<circle cx="346.40" cy="272.10" r="1.55" fill="#000"/>
<circle cx="346.40" cy="274.00" r="1.55" fill="#000"/>
<circle cx="346.40" cy="275.00" r="1.55" fill="#000"/>
<circle cx="346.40" cy="276.80" r="1.55" fill="#000"/>
<circle cx="346.40" cy="277.50" r="1.55" fill="#000"/>
<circle cx="346.40" cy="278.70" r="1.55" fill="#000"/>
<circle cx="346.40" cy="247.80" r="1.55" fill="#000"/>
<circle cx="346.40" cy="276.00" r="1.55" fill="#000"/>
<circle cx="346.40" cy="220.00" r="1.55" fill="#000"/>
<circle cx="346.40" cy="255.00" r="1.55" fill="#000"/>
<text x="378.60" y="179.50" font-size="14.7" font-weight="bold" text-anchor="start" fill="#000" >E</text>
<line x1="452.80" y1="183.90" x2="452.80" y2="279.30" stroke="#000" stroke-width="1.2" />
<line x1="448.20" y1="184.50" x2="452.80" y2="184.50" stroke="#000" stroke-width="1.2" />
<text x="446.90" y="187.65" font-size="8.75" font-weight="bold" text-anchor="end" fill="#000" >200,000</text>
<line x1="448.20" y1="203.40" x2="452.80" y2="203.40" stroke="#000" stroke-width="1.2" />
<text x="446.90" y="206.55" font-size="8.75" font-weight="bold" text-anchor="end" fill="#000" >150,000</text>
<line x1="448.20" y1="222.30" x2="452.80" y2="222.30" stroke="#000" stroke-width="1.2" />
<text x="446.90" y="225.45" font-size="8.75" font-weight="bold" text-anchor="end" fill="#000" >100,000</text>
<line x1="448.20" y1="241.10" x2="452.80" y2="241.10" stroke="#000" stroke-width="1.2" />
<text x="446.90" y="244.25" font-size="8.75" font-weight="bold" text-anchor="end" fill="#000" >50,000</text>
<line x1="448.20" y1="259.90" x2="452.80" y2="259.90" stroke="#000" stroke-width="1.2" />
<text x="446.90" y="263.05" font-size="8.75" font-weight="bold" text-anchor="end" fill="#000" >0</text>
<line x1="448.20" y1="278.70" x2="452.80" y2="278.70" stroke="#000" stroke-width="1.2" />
<text x="446.90" y="281.85" font-size="8.75" font-weight="bold" text-anchor="end" fill="#000" >−50,000</text>
<line x1="452.20" y1="278.70" x2="516.80" y2="278.70" stroke="#000" stroke-width="1.2" />
<line x1="470.90" y1="278.70" x2="470.90" y2="282.70" stroke="#000" stroke-width="1.2" />
<line x1="498.20" y1="278.70" x2="498.20" y2="282.70" stroke="#000" stroke-width="1.2" />
<text x="474.30" y="290.00" font-size="10.5" font-weight="bold" text-anchor="end" fill="#000" transform="rotate(-45 474.30 290.00)" >NAT</text>
<text x="502.10" y="290.00" font-size="10.8" font-weight="bold" text-anchor="end" fill="#000" transform="rotate(-45 502.10 290.00)" >Tumor</text>
<text x="404.00" y="234.20" font-size="11.0" font-weight="bold" text-anchor="middle" fill="#000" transform="rotate(-90 404.00 234.20)" >IL18 bound (pg/g)</text>
<polyline points="470.90,240.80 470.90,192.10 498.20,192.10 498.20,197.20" fill="none" stroke="#000" stroke-width="1.1" />
<text x="484.30" y="189.30" font-size="8" font-weight="bold" text-anchor="middle" fill="#000" stroke="#000" stroke-width="0.4">*</text>
<line x1="470.90" y1="252.60" x2="498.20" y2="202.90" stroke="#000" stroke-width="1.0" />
<line x1="470.90" y1="254.50" x2="498.20" y2="209.90" stroke="#000" stroke-width="1.0" />
<line x1="470.90" y1="258.80" x2="498.20" y2="216.20" stroke="#000" stroke-width="1.0" />
<line x1="470.90" y1="246.50" x2="498.20" y2="255.60" stroke="#000" stroke-width="1.0" />
<line x1="470.90" y1="256.90" x2="498.20" y2="244.20" stroke="#000" stroke-width="1.0" />
<line x1="470.90" y1="260.70" x2="498.20" y2="247.80" stroke="#000" stroke-width="1.0" />
<line x1="470.90" y1="262.30" x2="498.20" y2="256.90" stroke="#000" stroke-width="1.0" />
<circle cx="470.90" cy="252.60" r="1.6" fill="#000"/>
<circle cx="498.20" cy="202.90" r="1.6" fill="#000"/>
<circle cx="470.90" cy="254.50" r="1.6" fill="#000"/>
<circle cx="498.20" cy="209.90" r="1.6" fill="#000"/>
<circle cx="470.90" cy="258.80" r="1.6" fill="#000"/>
<circle cx="498.20" cy="216.20" r="1.6" fill="#000"/>
<circle cx="470.90" cy="246.50" r="1.6" fill="#000"/>
<circle cx="498.20" cy="255.60" r="1.6" fill="#000"/>
<circle cx="470.90" cy="256.90" r="1.6" fill="#000"/>
<circle cx="498.20" cy="244.20" r="1.6" fill="#000"/>
<circle cx="470.90" cy="260.70" r="1.6" fill="#000"/>
<circle cx="498.20" cy="247.80" r="1.6" fill="#000"/>
<circle cx="470.90" cy="262.30" r="1.6" fill="#000"/>
<circle cx="498.20" cy="256.90" r="1.6" fill="#000"/>
<text x="1.30" y="339.00" font-size="14.7" font-weight="bold" text-anchor="start" fill="#000" >F</text>
<line x1="84.50" y1="333.50" x2="84.50" y2="436.80" stroke="#000" stroke-width="1.1" />
<line x1="84.50" y1="441.50" x2="84.50" y2="461.70" stroke="#000" stroke-width="1.1" />
<line x1="82.50" y1="436.80" x2="85.50" y2="436.80" stroke="#000" stroke-width="1.0" />
<line x1="82.50" y1="441.50" x2="85.50" y2="441.50" stroke="#000" stroke-width="1.0" />
<line x1="81.10" y1="334.00" x2="84.50" y2="334.00" stroke="#000" stroke-width="1.1" />
<text x="79.90" y="336.70" font-size="7.8" font-weight="bold" text-anchor="end" fill="#000" >100,000,0</text>
<line x1="81.10" y1="368.00" x2="84.50" y2="368.00" stroke="#000" stroke-width="1.1" />
<text x="79.90" y="370.70" font-size="7.8" font-weight="bold" text-anchor="end" fill="#000" >100,000</text>
<line x1="81.10" y1="402.30" x2="84.50" y2="402.30" stroke="#000" stroke-width="1.1" />
<text x="79.90" y="405.00" font-size="7.8" font-weight="bold" text-anchor="end" fill="#000" >10,000</text>
<line x1="81.10" y1="436.30" x2="84.50" y2="436.30" stroke="#000" stroke-width="1.1" />
<text x="79.90" y="439.00" font-size="7.8" font-weight="bold" text-anchor="end" fill="#000" >1,000</text>
<line x1="81.10" y1="443.50" x2="84.50" y2="443.50" stroke="#000" stroke-width="1.1" />
<text x="79.90" y="446.00" font-size="6.9" font-weight="bold" text-anchor="end" fill="#000" >100</text>
<line x1="81.10" y1="452.30" x2="84.50" y2="452.30" stroke="#000" stroke-width="1.1" />
<text x="79.90" y="454.80" font-size="6.9" font-weight="bold" text-anchor="end" fill="#000" >10</text>
<line x1="81.10" y1="461.20" x2="84.50" y2="461.20" stroke="#000" stroke-width="1.1" />
<text x="79.90" y="463.70" font-size="6.9" font-weight="bold" text-anchor="end" fill="#000" >1</text>
<line x1="84.00" y1="461.30" x2="212.00" y2="461.30" stroke="#000" stroke-width="1.1" />
<line x1="98.20" y1="461.30" x2="98.20" y2="464.80" stroke="#000" stroke-width="1.1" />
<text x="101.40" y="472.60" font-size="10.3" font-weight="bold" text-anchor="end" fill="#000" transform="rotate(-45 101.40 472.60)" >IL1β</text>
<line x1="118.20" y1="461.30" x2="118.20" y2="464.80" stroke="#000" stroke-width="1.1" />
<text x="121.40" y="472.60" font-size="10.3" font-weight="bold" text-anchor="end" fill="#000" transform="rotate(-45 121.40 472.60)" >IL18</text>
<line x1="138.00" y1="461.30" x2="138.00" y2="464.80" stroke="#000" stroke-width="1.1" />
<text x="141.20" y="472.60" font-size="10.3" font-weight="bold" text-anchor="end" fill="#000" transform="rotate(-45 141.20 472.60)" >IFNγ</text>
<line x1="158.20" y1="461.30" x2="158.20" y2="464.80" stroke="#000" stroke-width="1.1" />
<text x="161.40" y="472.60" font-size="10.3" font-weight="bold" text-anchor="end" fill="#000" transform="rotate(-45 161.40 472.60)" >IL12</text>
<line x1="178.30" y1="461.30" x2="178.30" y2="464.80" stroke="#000" stroke-width="1.1" />
<text x="181.50" y="472.60" font-size="10.3" font-weight="bold" text-anchor="end" fill="#000" transform="rotate(-45 181.50 472.60)" >IL2</text>
<line x1="198.50" y1="461.30" x2="198.50" y2="464.80" stroke="#000" stroke-width="1.1" />
<text x="201.70" y="472.60" font-size="10.3" font-weight="bold" text-anchor="end" fill="#000" transform="rotate(-45 201.70 472.60)" >IL10</text>
<text x="25.60" y="398.90" font-size="10.85" font-weight="bold" text-anchor="middle" fill="#000" transform="rotate(-90 25.60 398.90)" >Cytokine (pg/g)</text>
<circle cx="98.16" cy="370.86" r="1.3" fill="#000"/>
<circle cx="98.16" cy="373.61" r="1.3" fill="#000"/>
<circle cx="98.16" cy="382.65" r="1.3" fill="#000"/>
<circle cx="96.59" cy="385.40" r="1.3" fill="#000"/>
<circle cx="100.12" cy="386.39" r="1.3" fill="#000"/>
<circle cx="94.62" cy="392.87" r="1.3" fill="#000"/>
<circle cx="98.16" cy="391.89" r="1.3" fill="#000"/>
<circle cx="102.09" cy="393.26" r="1.3" fill="#000"/>
<circle cx="94.62" cy="396.80" r="1.3" fill="#000"/>
<circle cx="98.16" cy="396.40" r="1.3" fill="#000"/>
<circle cx="102.09" cy="396.80" r="1.3" fill="#000"/>
<circle cx="96.59" cy="400.73" r="1.3" fill="#000"/>
<circle cx="99.53" cy="401.91" r="1.3" fill="#000"/>
<circle cx="98.16" cy="407.60" r="1.3" fill="#000"/>
<circle cx="101.50" cy="407.01" r="1.3" fill="#000"/>
<circle cx="95.02" cy="408.19" r="1.3" fill="#000"/>
<circle cx="92.66" cy="420.77" r="1.3" fill="#000"/>
<circle cx="96.19" cy="420.37" r="1.3" fill="#000"/>
<circle cx="100.12" cy="420.77" r="1.3" fill="#000"/>
<circle cx="103.46" cy="419.39" r="1.3" fill="#000"/>
<circle cx="92.66" cy="423.91" r="1.3" fill="#000"/>
<circle cx="96.19" cy="423.91" r="1.3" fill="#000"/>
<circle cx="99.53" cy="424.30" r="1.3" fill="#000"/>
<circle cx="103.46" cy="422.34" r="1.3" fill="#000"/>
<circle cx="92.66" cy="427.25" r="1.3" fill="#000"/>
<circle cx="96.19" cy="426.86" r="1.3" fill="#000"/>
<circle cx="100.91" cy="427.25" r="1.3" fill="#000"/>
<circle cx="92.66" cy="430.20" r="1.3" fill="#000"/>
<circle cx="96.98" cy="429.80" r="1.3" fill="#000"/>
<circle cx="103.86" cy="428.82" r="1.3" fill="#000"/>
<circle cx="100.12" cy="431.77" r="1.3" fill="#000"/>
<circle cx="98.16" cy="437.07" r="1.3" fill="#000"/>
<circle cx="96.59" cy="443.95" r="1.3" fill="#000"/>
<circle cx="100.52" cy="443.95" r="1.3" fill="#000"/>
<line x1="92.36" y1="405.25" x2="104.66" y2="405.25" stroke="#000" stroke-width="0.9" />
<line x1="98.36" y1="402.65" x2="98.36" y2="409.45" stroke="#000" stroke-width="0.5" />
<line x1="95.36" y1="402.65" x2="101.36" y2="402.65" stroke="#000" stroke-width="0.5" />
<line x1="95.36" y1="409.45" x2="101.36" y2="409.45" stroke="#000" stroke-width="0.5" />
<circle cx="118.30" cy="340.81" r="1.3" fill="#000"/>
<circle cx="118.30" cy="354.95" r="1.3" fill="#000"/>
<circle cx="114.61" cy="362.57" r="1.3" fill="#000"/>
<circle cx="119.06" cy="362.46" r="1.3" fill="#000"/>
<circle cx="121.91" cy="362.60" r="1.3" fill="#000"/>
<circle cx="114.13" cy="364.91" r="1.3" fill="#000"/>
<circle cx="118.53" cy="365.25" r="1.3" fill="#000"/>
<circle cx="121.17" cy="364.66" r="1.3" fill="#000"/>
<circle cx="113.96" cy="367.67" r="1.3" fill="#000"/>
<circle cx="118.65" cy="366.75" r="1.3" fill="#000"/>
<circle cx="122.77" cy="367.86" r="1.3" fill="#000"/>
<circle cx="114.98" cy="369.84" r="1.3" fill="#000"/>
<circle cx="117.68" cy="369.12" r="1.3" fill="#000"/>
<circle cx="121.95" cy="369.17" r="1.3" fill="#000"/>
<circle cx="116.28" cy="372.22" r="1.3" fill="#000"/>
<circle cx="121.50" cy="371.89" r="1.3" fill="#000"/>
<circle cx="115.32" cy="375.22" r="1.3" fill="#000"/>
<circle cx="118.55" cy="375.20" r="1.3" fill="#000"/>
<circle cx="122.19" cy="375.15" r="1.3" fill="#000"/>
<circle cx="115.43" cy="378.36" r="1.3" fill="#000"/>
<circle cx="121.78" cy="377.80" r="1.3" fill="#000"/>
<circle cx="115.27" cy="381.08" r="1.3" fill="#000"/>
<circle cx="120.62" cy="380.88" r="1.3" fill="#000"/>
<circle cx="115.42" cy="384.92" r="1.3" fill="#000"/>
<circle cx="120.80" cy="385.05" r="1.3" fill="#000"/>
<circle cx="113.80" cy="387.25" r="1.3" fill="#000"/>
<circle cx="119.04" cy="387.56" r="1.3" fill="#000"/>
<circle cx="122.76" cy="387.48" r="1.3" fill="#000"/>
<circle cx="115.72" cy="390.34" r="1.3" fill="#000"/>
<circle cx="121.31" cy="390.50" r="1.3" fill="#000"/>
<circle cx="114.36" cy="393.22" r="1.3" fill="#000"/>
<circle cx="118.14" cy="394.31" r="1.3" fill="#000"/>
<circle cx="121.24" cy="394.05" r="1.3" fill="#000"/>
<circle cx="113.91" cy="396.56" r="1.3" fill="#000"/>
<circle cx="117.72" cy="396.27" r="1.3" fill="#000"/>
<circle cx="121.81" cy="395.83" r="1.3" fill="#000"/>
<circle cx="114.74" cy="398.55" r="1.3" fill="#000"/>
<circle cx="116.74" cy="398.52" r="1.3" fill="#000"/>
<circle cx="120.53" cy="398.05" r="1.3" fill="#000"/>
<circle cx="123.01" cy="399.22" r="1.3" fill="#000"/>
<circle cx="113.90" cy="401.56" r="1.3" fill="#000"/>
<circle cx="116.43" cy="400.97" r="1.3" fill="#000"/>
<circle cx="120.29" cy="401.27" r="1.3" fill="#000"/>
<circle cx="121.63" cy="401.69" r="1.3" fill="#000"/>
<circle cx="114.59" cy="402.96" r="1.3" fill="#000"/>
<circle cx="118.50" cy="403.95" r="1.3" fill="#000"/>
<circle cx="121.70" cy="403.04" r="1.3" fill="#000"/>
<circle cx="114.85" cy="405.69" r="1.3" fill="#000"/>
<circle cx="118.48" cy="405.85" r="1.3" fill="#000"/>
<circle cx="121.82" cy="406.55" r="1.3" fill="#000"/>
<circle cx="114.85" cy="408.01" r="1.3" fill="#000"/>
<circle cx="116.74" cy="408.60" r="1.3" fill="#000"/>
<circle cx="119.31" cy="408.12" r="1.3" fill="#000"/>
<circle cx="122.55" cy="408.72" r="1.3" fill="#000"/>
<circle cx="115.13" cy="411.43" r="1.3" fill="#000"/>
<circle cx="117.75" cy="411.44" r="1.3" fill="#000"/>
<circle cx="122.59" cy="411.02" r="1.3" fill="#000"/>
<circle cx="113.44" cy="412.88" r="1.3" fill="#000"/>
<circle cx="116.97" cy="413.06" r="1.3" fill="#000"/>
<circle cx="120.08" cy="413.22" r="1.3" fill="#000"/>
<circle cx="122.21" cy="413.84" r="1.3" fill="#000"/>
<circle cx="113.88" cy="415.41" r="1.3" fill="#000"/>
<circle cx="117.35" cy="415.28" r="1.3" fill="#000"/>
<circle cx="119.16" cy="415.87" r="1.3" fill="#000"/>
<circle cx="122.98" cy="415.94" r="1.3" fill="#000"/>
<circle cx="118.40" cy="418.02" r="1.3" fill="#000"/>
<circle cx="120.36" cy="425.28" r="1.3" fill="#000"/>
<circle cx="116.43" cy="426.66" r="1.3" fill="#000"/>
<circle cx="118.40" cy="431.18" r="1.3" fill="#000"/>
<circle cx="118.40" cy="447.49" r="1.3" fill="#000"/>
<line x1="111.80" y1="379.71" x2="125.10" y2="379.71" stroke="#000" stroke-width="0.9" />
<circle cx="138.00" cy="429.90" r="1.3" fill="#000"/>
<circle cx="138.00" cy="445.20" r="1.3" fill="#000"/>
<line x1="131.90" y1="443.00" x2="144.90" y2="443.00" stroke="#000" stroke-width="0.9" />
<circle cx="135.37" cy="447.33" r="1.3" fill="#000"/>
<circle cx="140.32" cy="446.61" r="1.3" fill="#000"/>
<circle cx="133.36" cy="448.66" r="1.3" fill="#000"/>
<circle cx="135.61" cy="448.44" r="1.3" fill="#000"/>
<circle cx="138.17" cy="448.76" r="1.3" fill="#000"/>
<circle cx="140.40" cy="448.59" r="1.3" fill="#000"/>
<circle cx="143.23" cy="449.08" r="1.3" fill="#000"/>
<circle cx="132.39" cy="450.55" r="1.3" fill="#000"/>
<circle cx="134.77" cy="450.11" r="1.3" fill="#000"/>
<circle cx="136.86" cy="450.01" r="1.3" fill="#000"/>
<circle cx="139.81" cy="450.56" r="1.3" fill="#000"/>
<circle cx="142.26" cy="450.02" r="1.3" fill="#000"/>
<circle cx="144.48" cy="450.39" r="1.3" fill="#000"/>
<circle cx="132.44" cy="451.96" r="1.3" fill="#000"/>
<circle cx="135.02" cy="451.76" r="1.3" fill="#000"/>
<circle cx="137.17" cy="452.29" r="1.3" fill="#000"/>
<circle cx="139.80" cy="452.29" r="1.3" fill="#000"/>
<circle cx="142.10" cy="452.33" r="1.3" fill="#000"/>
<circle cx="144.65" cy="451.98" r="1.3" fill="#000"/>
<circle cx="133.11" cy="454.12" r="1.3" fill="#000"/>
<circle cx="135.85" cy="453.73" r="1.3" fill="#000"/>
<circle cx="138.42" cy="454.09" r="1.3" fill="#000"/>
<circle cx="140.92" cy="453.90" r="1.3" fill="#000"/>
<circle cx="143.43" cy="453.87" r="1.3" fill="#000"/>
<circle cx="135.07" cy="454.96" r="1.3" fill="#000"/>
<circle cx="138.08" cy="455.69" r="1.3" fill="#000"/>
<circle cx="141.23" cy="455.48" r="1.3" fill="#000"/>
<circle cx="152.44" cy="444.94" r="1.3" fill="#000"/>
<circle cx="154.56" cy="444.76" r="1.3" fill="#000"/>
<circle cx="156.70" cy="444.55" r="1.3" fill="#000"/>
<circle cx="158.68" cy="444.52" r="1.3" fill="#000"/>
<circle cx="160.62" cy="444.79" r="1.3" fill="#000"/>
<circle cx="162.45" cy="444.92" r="1.3" fill="#000"/>
<circle cx="164.60" cy="444.87" r="1.3" fill="#000"/>
<circle cx="153.01" cy="446.45" r="1.3" fill="#000"/>
<circle cx="154.46" cy="446.48" r="1.3" fill="#000"/>
<circle cx="156.69" cy="446.42" r="1.3" fill="#000"/>
<circle cx="158.33" cy="446.84" r="1.3" fill="#000"/>
<circle cx="160.48" cy="446.57" r="1.3" fill="#000"/>
<circle cx="162.50" cy="446.50" r="1.3" fill="#000"/>
<circle cx="164.28" cy="446.42" r="1.3" fill="#000"/>
<circle cx="153.77" cy="448.68" r="1.3" fill="#000"/>
<circle cx="155.85" cy="448.73" r="1.3" fill="#000"/>
<circle cx="157.42" cy="448.55" r="1.3" fill="#000"/>
<circle cx="159.23" cy="448.28" r="1.3" fill="#000"/>
<circle cx="161.16" cy="448.70" r="1.3" fill="#000"/>
<circle cx="163.17" cy="448.63" r="1.3" fill="#000"/>
<circle cx="155.23" cy="450.27" r="1.3" fill="#000"/>
<circle cx="157.00" cy="450.37" r="1.3" fill="#000"/>
<circle cx="159.22" cy="450.23" r="1.3" fill="#000"/>
<circle cx="161.46" cy="450.48" r="1.3" fill="#000"/>
<circle cx="156.00" cy="452.19" r="1.3" fill="#000"/>
<circle cx="158.42" cy="452.59" r="1.3" fill="#000"/>
<circle cx="160.48" cy="452.04" r="1.3" fill="#000"/>
<circle cx="156.77" cy="454.42" r="1.3" fill="#000"/>
<circle cx="159.37" cy="454.33" r="1.3" fill="#000"/>
<circle cx="158.34" cy="455.89" r="1.3" fill="#000"/>
<circle cx="173.10" cy="444.22" r="1.3" fill="#000"/>
<circle cx="176.04" cy="443.36" r="1.3" fill="#000"/>
<circle cx="180.36" cy="443.70" r="1.3" fill="#000"/>
<circle cx="184.17" cy="443.36" r="1.3" fill="#000"/>
<circle cx="173.10" cy="446.82" r="1.3" fill="#000"/>
<circle cx="178.63" cy="446.30" r="1.3" fill="#000"/>
<circle cx="184.17" cy="446.82" r="1.3" fill="#000"/>
<circle cx="176.56" cy="449.41" r="1.3" fill="#000"/>
<circle cx="180.36" cy="448.55" r="1.3" fill="#000"/>
<circle cx="198.50" cy="435.20" r="1.3" fill="#000"/>
<circle cx="192.95" cy="444.31" r="1.3" fill="#000"/>
<circle cx="194.58" cy="444.57" r="1.3" fill="#000"/>
<circle cx="196.50" cy="444.80" r="1.3" fill="#000"/>
<circle cx="198.57" cy="444.38" r="1.3" fill="#000"/>
<circle cx="200.44" cy="444.68" r="1.3" fill="#000"/>
<circle cx="202.61" cy="444.68" r="1.3" fill="#000"/>
<circle cx="204.68" cy="444.78" r="1.3" fill="#000"/>
<circle cx="193.73" cy="446.41" r="1.3" fill="#000"/>
<circle cx="195.45" cy="446.29" r="1.3" fill="#000"/>
<circle cx="197.54" cy="446.01" r="1.3" fill="#000"/>
<circle cx="199.79" cy="446.43" r="1.3" fill="#000"/>
<circle cx="201.74" cy="446.16" r="1.3" fill="#000"/>
<circle cx="203.92" cy="446.42" r="1.3" fill="#000"/>
<circle cx="195.81" cy="448.07" r="1.3" fill="#000"/>
<circle cx="197.93" cy="447.94" r="1.3" fill="#000"/>
<circle cx="199.95" cy="448.24" r="1.3" fill="#000"/>
<circle cx="201.59" cy="448.26" r="1.3" fill="#000"/>
<circle cx="197.11" cy="449.58" r="1.3" fill="#000"/>
<circle cx="198.73" cy="449.88" r="1.3" fill="#000"/>
<circle cx="200.70" cy="449.73" r="1.3" fill="#000"/>
<circle cx="197.53" cy="451.73" r="1.3" fill="#000"/>
<circle cx="199.65" cy="451.77" r="1.3" fill="#000"/>
<text x="258.00" y="339.20" font-size="14.7" font-weight="bold" text-anchor="start" fill="#000" >G</text>
<line x1="296.60" y1="374.65" x2="296.60" y2="460.55" stroke="#000" stroke-width="1.1" />
<line x1="292.80" y1="375.20" x2="296.60" y2="375.20" stroke="#000" stroke-width="1.1" />
<text x="291.30" y="378.15" font-size="8.2" font-weight="bold" text-anchor="end" fill="#000" >256</text>
<line x1="292.80" y1="385.80" x2="296.60" y2="385.80" stroke="#000" stroke-width="1.1" />
<text x="291.30" y="388.75" font-size="8.2" font-weight="bold" text-anchor="end" fill="#000" >128</text>
<line x1="292.80" y1="396.40" x2="296.60" y2="396.40" stroke="#000" stroke-width="1.1" />
<text x="291.30" y="399.35" font-size="8.2" font-weight="bold" text-anchor="end" fill="#000" >64</text>
<line x1="292.80" y1="407.00" x2="296.60" y2="407.00" stroke="#000" stroke-width="1.1" />
<text x="291.30" y="409.95" font-size="8.2" font-weight="bold" text-anchor="end" fill="#000" >32</text>
<line x1="292.80" y1="417.60" x2="296.60" y2="417.60" stroke="#000" stroke-width="1.1" />
<text x="291.30" y="420.55" font-size="8.2" font-weight="bold" text-anchor="end" fill="#000" >16</text>
<line x1="292.80" y1="428.20" x2="296.60" y2="428.20" stroke="#000" stroke-width="1.1" />
<text x="291.30" y="431.15" font-size="8.2" font-weight="bold" text-anchor="end" fill="#000" >8</text>
<line x1="292.80" y1="438.80" x2="296.60" y2="438.80" stroke="#000" stroke-width="1.1" />
<text x="291.30" y="441.75" font-size="8.2" font-weight="bold" text-anchor="end" fill="#000" >4</text>
<line x1="292.80" y1="449.40" x2="296.60" y2="449.40" stroke="#000" stroke-width="1.1" />
<text x="291.30" y="452.35" font-size="8.2" font-weight="bold" text-anchor="end" fill="#000" >2</text>
<line x1="292.80" y1="460.00" x2="296.60" y2="460.00" stroke="#000" stroke-width="1.1" />
<text x="291.30" y="462.95" font-size="8.2" font-weight="bold" text-anchor="end" fill="#000" >1</text>
<line x1="296.10" y1="460.00" x2="352.30" y2="460.00" stroke="#000" stroke-width="1.1" />
<line x1="312.00" y1="460.00" x2="312.00" y2="463.30" stroke="#000" stroke-width="1.1" />
<line x1="336.20" y1="460.00" x2="336.20" y2="463.30" stroke="#000" stroke-width="1.1" />
<text x="315.50" y="469.50" font-size="8.4" font-weight="bold" text-anchor="end" fill="#000" transform="rotate(-45 315.50 469.50)" >PBMCs</text>
<text x="339.70" y="469.50" font-size="8.4" font-weight="bold" text-anchor="end" fill="#000" transform="rotate(-45 339.70 469.50)" >TME</text>
<text x="271.20" y="417.20" font-size="9.5" font-weight="bold" text-anchor="middle" fill="#000" transform="rotate(-90 271.20 417.20)" >IL18Rα (FOI)</text>
<text x="324.10" y="349.30" font-size="9.0" font-weight="bold" text-anchor="middle" fill="#000" >CD4</text>
<text x="321.60" y="365.90" font-size="12.3" font-weight="bold" text-anchor="middle" fill="#000" >*</text>
<text x="327.90" y="365.90" font-size="12.3" font-weight="bold" text-anchor="middle" fill="#000" >*</text>
<polyline points="312.00,390.30 312.00,366.30 336.20,366.30 336.20,373.80" fill="none" stroke="#000" stroke-width="1.1" />
<line x1="312.00" y1="394.75" x2="336.20" y2="376.22" stroke="#000" stroke-width="0.75" />
<line x1="312.00" y1="401.70" x2="336.20" y2="380.62" stroke="#000" stroke-width="0.75" />
<line x1="312.00" y1="403.78" x2="336.20" y2="380.62" stroke="#000" stroke-width="0.75" />
<line x1="312.00" y1="434.58" x2="336.20" y2="382.94" stroke="#000" stroke-width="0.75" />
<line x1="312.00" y1="440.37" x2="336.20" y2="397.53" stroke="#000" stroke-width="0.75" />
<line x1="312.00" y1="424.62" x2="336.20" y2="411.42" stroke="#000" stroke-width="0.75" />
<line x1="312.00" y1="425.78" x2="336.20" y2="413.74" stroke="#000" stroke-width="0.75" />
<line x1="312.00" y1="427.64" x2="336.20" y2="414.90" stroke="#000" stroke-width="0.75" />
<line x1="312.00" y1="429.49" x2="336.20" y2="414.90" stroke="#000" stroke-width="0.75" />
<line x1="312.00" y1="431.11" x2="336.20" y2="413.74" stroke="#000" stroke-width="0.75" />
<line x1="312.00" y1="432.73" x2="336.20" y2="420.22" stroke="#000" stroke-width="0.75" />
<line x1="312.00" y1="434.58" x2="336.20" y2="421.85" stroke="#000" stroke-width="0.75" />
<line x1="312.00" y1="429.49" x2="336.20" y2="429.49" stroke="#000" stroke-width="0.75" />
<line x1="312.00" y1="440.37" x2="336.20" y2="415.36" stroke="#000" stroke-width="0.75" />
<line x1="312.00" y1="445.70" x2="336.20" y2="421.85" stroke="#000" stroke-width="0.75" />
<line x1="312.00" y1="440.37" x2="336.20" y2="433.43" stroke="#000" stroke-width="0.75" />
<line x1="312.00" y1="426.71" x2="336.20" y2="412.81" stroke="#000" stroke-width="0.75" />
<circle cx="312.00" cy="401.70" r="1.2" fill="#000"/>
<circle cx="312.00" cy="394.75" r="1.2" fill="#000"/>
<circle cx="312.00" cy="424.62" r="1.2" fill="#000"/>
<circle cx="312.00" cy="432.73" r="1.2" fill="#000"/>
<circle cx="312.00" cy="440.37" r="1.2" fill="#000"/>
<circle cx="312.00" cy="425.78" r="1.2" fill="#000"/>
<circle cx="312.00" cy="403.78" r="1.2" fill="#000"/>
<circle cx="312.00" cy="426.71" r="1.2" fill="#000"/>
<circle cx="312.00" cy="434.58" r="1.2" fill="#000"/>
<circle cx="312.00" cy="427.64" r="1.2" fill="#000"/>
<circle cx="312.00" cy="429.49" r="1.2" fill="#000"/>
<circle cx="312.00" cy="445.70" r="1.2" fill="#000"/>
<circle cx="312.00" cy="431.11" r="1.2" fill="#000"/>
<circle cx="336.20" cy="380.62" r="1.2" fill="#000"/>
<circle cx="336.20" cy="433.43" r="1.2" fill="#000"/>
<circle cx="336.20" cy="411.42" r="1.2" fill="#000"/>
<circle cx="336.20" cy="397.53" r="1.2" fill="#000"/>
<circle cx="336.20" cy="420.22" r="1.2" fill="#000"/>
<circle cx="336.20" cy="412.81" r="1.2" fill="#000"/>
<circle cx="336.20" cy="376.22" r="1.2" fill="#000"/>
<circle cx="336.20" cy="413.74" r="1.2" fill="#000"/>
<circle cx="336.20" cy="421.85" r="1.2" fill="#000"/>
<circle cx="336.20" cy="429.49" r="1.2" fill="#000"/>
<circle cx="336.20" cy="414.90" r="1.2" fill="#000"/>
<circle cx="336.20" cy="415.36" r="1.2" fill="#000"/>
<line x1="404.20" y1="373.95" x2="404.20" y2="460.57" stroke="#000" stroke-width="1.1" />
<line x1="400.40" y1="374.50" x2="404.20" y2="374.50" stroke="#000" stroke-width="1.1" />
<text x="398.90" y="377.45" font-size="8.2" font-weight="bold" text-anchor="end" fill="#000" >256</text>
<line x1="400.40" y1="385.19" x2="404.20" y2="385.19" stroke="#000" stroke-width="1.1" />
<text x="398.90" y="388.14" font-size="8.2" font-weight="bold" text-anchor="end" fill="#000" >128</text>
<line x1="400.40" y1="395.88" x2="404.20" y2="395.88" stroke="#000" stroke-width="1.1" />
<text x="398.90" y="398.83" font-size="8.2" font-weight="bold" text-anchor="end" fill="#000" >64</text>
<line x1="400.40" y1="406.57" x2="404.20" y2="406.57" stroke="#000" stroke-width="1.1" />
<text x="398.90" y="409.52" font-size="8.2" font-weight="bold" text-anchor="end" fill="#000" >32</text>
<line x1="400.40" y1="417.26" x2="404.20" y2="417.26" stroke="#000" stroke-width="1.1" />
<text x="398.90" y="420.21" font-size="8.2" font-weight="bold" text-anchor="end" fill="#000" >16</text>
<line x1="400.40" y1="427.95" x2="404.20" y2="427.95" stroke="#000" stroke-width="1.1" />
<text x="398.90" y="430.90" font-size="8.2" font-weight="bold" text-anchor="end" fill="#000" >8</text>
<line x1="400.40" y1="438.64" x2="404.20" y2="438.64" stroke="#000" stroke-width="1.1" />
<text x="398.90" y="441.59" font-size="8.2" font-weight="bold" text-anchor="end" fill="#000" >4</text>
<line x1="400.40" y1="449.33" x2="404.20" y2="449.33" stroke="#000" stroke-width="1.1" />
<text x="398.90" y="452.28" font-size="8.2" font-weight="bold" text-anchor="end" fill="#000" >2</text>
<line x1="400.40" y1="460.02" x2="404.20" y2="460.02" stroke="#000" stroke-width="1.1" />
<text x="398.90" y="462.97" font-size="8.2" font-weight="bold" text-anchor="end" fill="#000" >1</text>
<line x1="403.70" y1="460.00" x2="460.20" y2="460.00" stroke="#000" stroke-width="1.1" />
<line x1="419.80" y1="460.00" x2="419.80" y2="463.30" stroke="#000" stroke-width="1.1" />
<line x1="444.00" y1="460.00" x2="444.00" y2="463.30" stroke="#000" stroke-width="1.1" />
<text x="423.30" y="469.50" font-size="8.4" font-weight="bold" text-anchor="end" fill="#000" transform="rotate(-45 423.30 469.50)" >PBMCs</text>
<text x="447.50" y="469.50" font-size="8.4" font-weight="bold" text-anchor="end" fill="#000" transform="rotate(-45 447.50 469.50)" >TME</text>
<text x="378.20" y="417.20" font-size="9.5" font-weight="bold" text-anchor="middle" fill="#000" transform="rotate(-90 378.20 417.20)" >IL18Rα (FOI)</text>
<text x="431.60" y="348.20" font-size="9.1" font-weight="bold" text-anchor="middle" fill="#000" >CD8</text>
<text x="431.60" y="363.50" font-size="8.4" font-weight="normal" text-anchor="middle" fill="#222" >0.1633</text>
<polyline points="419.80,395.40 419.80,367.70 444.00,367.70 444.00,372.50" fill="none" stroke="#000" stroke-width="1.1" />
<line x1="419.80" y1="401.47" x2="444.00" y2="377.84" stroke="#000" stroke-width="0.75" />
<line x1="419.80" y1="401.47" x2="444.00" y2="396.37" stroke="#000" stroke-width="0.75" />
<line x1="419.80" y1="401.93" x2="444.00" y2="397.53" stroke="#000" stroke-width="0.75" />
<line x1="419.80" y1="418.37" x2="444.00" y2="417.68" stroke="#000" stroke-width="0.75" />
<line x1="419.80" y1="424.16" x2="444.00" y2="424.16" stroke="#000" stroke-width="0.75" />
<line x1="419.80" y1="428.10" x2="444.00" y2="423.00" stroke="#000" stroke-width="0.75" />
<line x1="419.80" y1="433.43" x2="444.00" y2="435.74" stroke="#000" stroke-width="0.75" />
<line x1="419.80" y1="436.90" x2="444.00" y2="410.96" stroke="#000" stroke-width="0.75" />
<line x1="419.80" y1="438.75" x2="444.00" y2="423.00" stroke="#000" stroke-width="0.75" />
<line x1="419.80" y1="440.37" x2="444.00" y2="431.11" stroke="#000" stroke-width="0.75" />
<line x1="419.80" y1="441.99" x2="444.00" y2="431.80" stroke="#000" stroke-width="0.75" />
<line x1="419.80" y1="443.85" x2="444.00" y2="441.53" stroke="#000" stroke-width="0.75" />
<line x1="419.80" y1="440.37" x2="444.00" y2="447.78" stroke="#000" stroke-width="0.75" />
<line x1="419.80" y1="443.85" x2="444.00" y2="424.16" stroke="#000" stroke-width="0.75" />
<line x1="419.80" y1="436.90" x2="444.00" y2="431.11" stroke="#000" stroke-width="0.75" />
<line x1="419.80" y1="441.99" x2="444.00" y2="435.74" stroke="#000" stroke-width="0.75" />
<circle cx="419.80" cy="438.75" r="1.2" fill="#000"/>
<circle cx="419.80" cy="401.93" r="1.2" fill="#000"/>
<circle cx="419.80" cy="424.16" r="1.2" fill="#000"/>
<circle cx="419.80" cy="440.37" r="1.2" fill="#000"/>
<circle cx="419.80" cy="418.37" r="1.2" fill="#000"/>
<circle cx="419.80" cy="433.43" r="1.2" fill="#000"/>
<circle cx="419.80" cy="441.99" r="1.2" fill="#000"/>
<circle cx="419.80" cy="428.10" r="1.2" fill="#000"/>
<circle cx="419.80" cy="443.85" r="1.2" fill="#000"/>
<circle cx="419.80" cy="436.90" r="1.2" fill="#000"/>
<circle cx="419.80" cy="401.47" r="1.2" fill="#000"/>
<circle cx="444.00" cy="424.16" r="1.2" fill="#000"/>
<circle cx="444.00" cy="431.80" r="1.2" fill="#000"/>
<circle cx="444.00" cy="417.68" r="1.2" fill="#000"/>
<circle cx="444.00" cy="447.78" r="1.2" fill="#000"/>
<circle cx="444.00" cy="396.37" r="1.2" fill="#000"/>
<circle cx="444.00" cy="441.53" r="1.2" fill="#000"/>
<circle cx="444.00" cy="397.53" r="1.2" fill="#000"/>
<circle cx="444.00" cy="435.74" r="1.2" fill="#000"/>
<circle cx="444.00" cy="377.84" r="1.2" fill="#000"/>
<circle cx="444.00" cy="423.00" r="1.2" fill="#000"/>
<circle cx="444.00" cy="431.11" r="1.2" fill="#000"/>
<text x="0.40" y="520.60" font-size="14.7" font-weight="bold" text-anchor="start" fill="#000" >H</text>
<polygon points="79.0,537.3 175.0,537.3 97.0,556.0 79.0,556.0" fill="#dadcf2"/>
<rect x="59.40" y="566.40" width="15.50" height="15.80" fill="#213a78" stroke="#1d2b2b" stroke-width="0.7"/>
<line x1="67.15" y1="565.70" x2="67.15" y2="566.75" stroke="#000" stroke-width="1.0" />
<line x1="63.55" y1="565.70" x2="70.75" y2="565.70" stroke="#000" stroke-width="1.0" />
<rect x="82.30" y="557.90" width="15.20" height="24.30" fill="#4a978d" stroke="#1d2b2b" stroke-width="0.7"/>
<line x1="89.90" y1="554.90" x2="89.90" y2="559.40" stroke="#000" stroke-width="1.0" />
<line x1="86.30" y1="554.90" x2="93.50" y2="554.90" stroke="#000" stroke-width="1.0" />
<circle cx="89.10" cy="560.15" r="0.8" fill="#123"/>
<rect x="104.90" y="554.70" width="15.90" height="27.50" fill="#4a978d" stroke="#1d2b2b" stroke-width="0.7"/>
<line x1="112.85" y1="552.90" x2="112.85" y2="555.60" stroke="#000" stroke-width="1.0" />
<line x1="109.25" y1="552.90" x2="116.45" y2="552.90" stroke="#000" stroke-width="1.0" />
<rect x="129.40" y="547.30" width="14.80" height="34.90" fill="#4a978d" stroke="#1d2b2b" stroke-width="0.7"/>
<line x1="136.80" y1="544.00" x2="136.80" y2="548.95" stroke="#000" stroke-width="1.0" />
<line x1="133.20" y1="544.00" x2="140.40" y2="544.00" stroke="#000" stroke-width="1.0" />
<circle cx="136.00" cy="549.72" r="0.8" fill="#123"/>
<rect x="152.50" y="542.30" width="14.70" height="39.90" fill="#4a978d" stroke="#1d2b2b" stroke-width="0.7"/>
<line x1="159.85" y1="541.40" x2="159.85" y2="542.75" stroke="#000" stroke-width="1.0" />
<line x1="156.25" y1="541.40" x2="163.45" y2="541.40" stroke="#000" stroke-width="1.0" />
<rect x="176.00" y="537.30" width="14.90" height="44.90" fill="#4a978d" stroke="#1d2b2b" stroke-width="0.7"/>
<line x1="183.45" y1="531.70" x2="183.45" y2="540.10" stroke="#000" stroke-width="1.0" />
<line x1="179.85" y1="531.70" x2="187.05" y2="531.70" stroke="#000" stroke-width="1.0" />
<circle cx="182.65" cy="540.98" r="0.8" fill="#123"/>
<rect x="199.40" y="533.30" width="14.80" height="48.90" fill="#4a978d" stroke="#1d2b2b" stroke-width="0.7"/>
<line x1="206.80" y1="528.70" x2="206.80" y2="535.60" stroke="#000" stroke-width="1.0" />
<line x1="203.20" y1="528.70" x2="210.40" y2="528.70" stroke="#000" stroke-width="1.0" />
<circle cx="206.00" cy="536.43" r="0.8" fill="#123"/>
<line x1="59.70" y1="537.30" x2="217.00" y2="537.30" stroke="#222" stroke-width="1" stroke-dasharray="2.6 2.2"/>
<line x1="59.70" y1="566.40" x2="217.00" y2="566.40" stroke="#222" stroke-width="1" stroke-dasharray="2.6 2.2"/>
<line x1="51.30" y1="518.85" x2="51.30" y2="582.75" stroke="#000" stroke-width="1.1" />
<line x1="48.50" y1="519.40" x2="51.30" y2="519.40" stroke="#000" stroke-width="1.1" />
<text x="47.00" y="521.78" font-size="6.6" font-weight="bold" text-anchor="end" fill="#000" >500</text>
<line x1="48.50" y1="531.96" x2="51.30" y2="531.96" stroke="#000" stroke-width="1.1" />
<text x="47.00" y="534.34" font-size="6.6" font-weight="bold" text-anchor="end" fill="#000" >400</text>
<line x1="48.50" y1="544.52" x2="51.30" y2="544.52" stroke="#000" stroke-width="1.1" />
<text x="47.00" y="546.90" font-size="6.6" font-weight="bold" text-anchor="end" fill="#000" >300</text>
<line x1="48.50" y1="557.08" x2="51.30" y2="557.08" stroke="#000" stroke-width="1.1" />
<text x="47.00" y="559.46" font-size="6.6" font-weight="bold" text-anchor="end" fill="#000" >200</text>
<line x1="48.50" y1="569.64" x2="51.30" y2="569.64" stroke="#000" stroke-width="1.1" />
<text x="47.00" y="572.02" font-size="6.6" font-weight="bold" text-anchor="end" fill="#000" >100</text>
<line x1="48.50" y1="582.20" x2="51.30" y2="582.20" stroke="#000" stroke-width="1.1" />
<text x="47.00" y="584.58" font-size="6.6" font-weight="bold" text-anchor="end" fill="#000" >0</text>
<line x1="50.80" y1="582.20" x2="222.30" y2="582.20" stroke="#000" stroke-width="1.3" />
<text x="27.70" y="550.70" font-size="7.8" font-weight="bold" text-anchor="middle" fill="#000" transform="rotate(-90 27.70 550.70)" >IFNγ (pg/mL)</text>
<text x="136.00" y="527.00" font-size="7.8" font-weight="bold" text-anchor="middle" fill="#000" >Donor 1</text>
<text x="90.30" y="546.30" font-size="10" font-weight="normal" text-anchor="middle" fill="#b5605c" >+56%</text>
<text x="222.30" y="554.00" font-size="10.4" font-weight="normal" text-anchor="start" fill="#2a2a2a" >+188%</text>
<ellipse cx="90.1" cy="569.3" rx="12.0" ry="25.6" fill="none" stroke="#b3201f" stroke-width="1.3"/>
<text x="67.15" y="592.20" font-size="7.2" font-weight="bold" text-anchor="middle" fill="#000" >0</text>
<text x="89.90" y="592.20" font-size="7.2" font-weight="bold" text-anchor="middle" fill="#000" >1.23</text>
<text x="112.85" y="592.20" font-size="7.2" font-weight="bold" text-anchor="middle" fill="#000" >3.7</text>
<text x="136.80" y="592.20" font-size="7.2" font-weight="bold" text-anchor="middle" fill="#000" >11.1</text>
<text x="159.85" y="592.20" font-size="7.2" font-weight="bold" text-anchor="middle" fill="#000" >33.3</text>
<text x="183.45" y="592.20" font-size="7.2" font-weight="bold" text-anchor="middle" fill="#000" >100</text>
<text x="206.80" y="592.20" font-size="7.2" font-weight="bold" text-anchor="middle" fill="#000" >300</text>
<polyline points="61.20,592.80 61.20,594.80 215.80,594.80 215.80,592.80" fill="none" stroke="#000" stroke-width="0.8" />
<text x="139.60" y="605.00" font-size="7.7" font-weight="bold" text-anchor="middle" fill="#000" >IL18 (ng/mL)</text>
<polygon points="80.8,649.1 169.0,649.1 95.2,677.0 80.8,677.0" fill="#dadcf2"/>
<rect x="57.00" y="682.50" width="15.50" height="5.80" fill="#213a78" stroke="#1d2b2b" stroke-width="0.7"/>
<line x1="64.75" y1="681.90" x2="64.75" y2="682.80" stroke="#000" stroke-width="1.0" />
<line x1="61.15" y1="681.90" x2="68.35" y2="681.90" stroke="#000" stroke-width="1.0" />
<rect x="80.00" y="677.00" width="15.20" height="11.30" fill="#4a978d" stroke="#1d2b2b" stroke-width="0.7"/>
<line x1="87.60" y1="676.10" x2="87.60" y2="677.45" stroke="#000" stroke-width="1.0" />
<line x1="84.00" y1="676.10" x2="91.20" y2="676.10" stroke="#000" stroke-width="1.0" />
<rect x="103.00" y="674.30" width="14.70" height="14.00" fill="#4a978d" stroke="#1d2b2b" stroke-width="0.7"/>
<line x1="110.35" y1="673.40" x2="110.35" y2="674.75" stroke="#000" stroke-width="1.0" />
<line x1="106.75" y1="673.40" x2="113.95" y2="673.40" stroke="#000" stroke-width="1.0" />
<rect x="125.30" y="668.30" width="14.50" height="20.00" fill="#4a978d" stroke="#1d2b2b" stroke-width="0.7"/>
<line x1="132.55" y1="667.40" x2="132.55" y2="668.75" stroke="#000" stroke-width="1.0" />
<line x1="128.95" y1="667.40" x2="136.15" y2="667.40" stroke="#000" stroke-width="1.0" />
<rect x="147.70" y="654.80" width="14.80" height="33.50" fill="#4a978d" stroke="#1d2b2b" stroke-width="0.7"/>
<line x1="155.10" y1="650.20" x2="155.10" y2="657.10" stroke="#000" stroke-width="1.0" />
<line x1="151.50" y1="650.20" x2="158.70" y2="650.20" stroke="#000" stroke-width="1.0" />
<circle cx="154.30" cy="657.93" r="0.8" fill="#123"/>
<rect x="170.00" y="648.90" width="15.00" height="39.40" fill="#4a978d" stroke="#1d2b2b" stroke-width="0.7"/>
<line x1="177.50" y1="645.30" x2="177.50" y2="650.70" stroke="#000" stroke-width="1.0" />
<line x1="173.90" y1="645.30" x2="181.10" y2="645.30" stroke="#000" stroke-width="1.0" />
<circle cx="176.70" cy="651.48" r="0.8" fill="#123"/>
<rect x="193.00" y="646.70" width="14.60" height="41.60" fill="#4a978d" stroke="#1d2b2b" stroke-width="0.7"/>
<line x1="200.30" y1="643.10" x2="200.30" y2="648.50" stroke="#000" stroke-width="1.0" />
<line x1="196.70" y1="643.10" x2="203.90" y2="643.10" stroke="#000" stroke-width="1.0" />
<circle cx="199.50" cy="649.28" r="0.8" fill="#123"/>
<line x1="57.30" y1="649.10" x2="215.00" y2="649.10" stroke="#222" stroke-width="1" stroke-dasharray="2.6 2.2"/>
<line x1="57.30" y1="682.70" x2="215.00" y2="682.70" stroke="#222" stroke-width="1" stroke-dasharray="2.6 2.2"/>
<line x1="49.40" y1="626.75" x2="49.40" y2="688.85" stroke="#000" stroke-width="1.1" />
<line x1="46.60" y1="627.30" x2="49.40" y2="627.30" stroke="#000" stroke-width="1.1" />
<text x="45.10" y="629.68" font-size="6.6" font-weight="bold" text-anchor="end" fill="#000" >400</text>
<line x1="46.60" y1="642.55" x2="49.40" y2="642.55" stroke="#000" stroke-width="1.1" />
<text x="45.10" y="644.93" font-size="6.6" font-weight="bold" text-anchor="end" fill="#000" >300</text>
<line x1="46.60" y1="657.80" x2="49.40" y2="657.80" stroke="#000" stroke-width="1.1" />
<text x="45.10" y="660.18" font-size="6.6" font-weight="bold" text-anchor="end" fill="#000" >200</text>
<line x1="46.60" y1="673.05" x2="49.40" y2="673.05" stroke="#000" stroke-width="1.1" />
<text x="45.10" y="675.43" font-size="6.6" font-weight="bold" text-anchor="end" fill="#000" >100</text>
<line x1="46.60" y1="688.30" x2="49.40" y2="688.30" stroke="#000" stroke-width="1.1" />
<text x="45.10" y="690.68" font-size="6.6" font-weight="bold" text-anchor="end" fill="#000" >0</text>
<line x1="48.90" y1="688.30" x2="215.50" y2="688.30" stroke="#000" stroke-width="1.3" />
<text x="25.70" y="657.30" font-size="7.8" font-weight="bold" text-anchor="middle" fill="#000" transform="rotate(-90 25.70 657.30)" >IFNγ (pg/mL)</text>
<text x="132.60" y="635.50" font-size="7.8" font-weight="bold" text-anchor="middle" fill="#000" >Donor 2</text>
<text x="88.80" y="665.50" font-size="10.6" font-weight="normal" text-anchor="middle" fill="#b5605c" >+93%</text>
<text x="217.00" y="668.00" font-size="10.6" font-weight="normal" text-anchor="start" fill="#2a2a2a" >+550%</text>
<ellipse cx="87.7" cy="685.4" rx="12.3" ry="16.8" fill="none" stroke="#b3201f" stroke-width="1.3"/>
<text x="64.75" y="698.30" font-size="7.2" font-weight="bold" text-anchor="middle" fill="#000" >o</text>
<text x="87.60" y="698.30" font-size="7.2" font-weight="bold" text-anchor="middle" fill="#000" >1.23</text>
<text x="110.35" y="698.30" font-size="7.2" font-weight="bold" text-anchor="middle" fill="#000" >3.7</text>
<text x="132.55" y="698.30" font-size="7.2" font-weight="bold" text-anchor="middle" fill="#000" >11.1</text>
<text x="155.10" y="698.30" font-size="7.2" font-weight="bold" text-anchor="middle" fill="#000" >33.3</text>
<text x="177.50" y="698.30" font-size="7.2" font-weight="bold" text-anchor="middle" fill="#000" >100</text>
<text x="200.30" y="698.30" font-size="7.2" font-weight="bold" text-anchor="middle" fill="#000" >300</text>
<polyline points="59.00,698.30 59.00,700.30 209.60,700.30 209.60,698.30" fill="none" stroke="#000" stroke-width="0.8" />
<text x="132.20" y="709.20" font-size="7.7" font-weight="bold" text-anchor="middle" fill="#000" >IL18 (ng/mL)</text>
<text x="277.30" y="521.00" font-size="14.7" font-weight="bold" text-anchor="start" fill="#000" >I</text>
<line x1="316.50" y1="539.90" x2="316.50" y2="594.00" stroke="#000" stroke-width="1" />
<line x1="312.50" y1="594.00" x2="316.50" y2="594.00" stroke="#000" stroke-width="1" />
<line x1="312.50" y1="540.40" x2="316.50" y2="540.40" stroke="#000" stroke-width="1" />
<text x="310.20" y="543.00" font-size="7.2" font-weight="bold" text-anchor="end" fill="#000" >240</text>
<line x1="312.50" y1="559.80" x2="316.50" y2="559.80" stroke="#000" stroke-width="1" />
<text x="310.20" y="562.40" font-size="7.2" font-weight="bold" text-anchor="end" fill="#000" >160</text>
<line x1="312.50" y1="579.20" x2="316.50" y2="579.20" stroke="#000" stroke-width="1" />
<text x="310.20" y="581.80" font-size="7.2" font-weight="bold" text-anchor="end" fill="#000" >80</text>
<line x1="316.50" y1="602.30" x2="316.50" y2="655.40" stroke="#000" stroke-width="1" />
<line x1="312.50" y1="602.30" x2="316.50" y2="602.30" stroke="#000" stroke-width="1" />
<line x1="312.50" y1="607.50" x2="316.50" y2="607.50" stroke="#000" stroke-width="1" />
<text x="310.20" y="610.10" font-size="7.2" font-weight="bold" text-anchor="end" fill="#000" >16</text>
<line x1="312.50" y1="618.30" x2="316.50" y2="618.30" stroke="#000" stroke-width="1" />
<text x="310.20" y="620.90" font-size="7.2" font-weight="bold" text-anchor="end" fill="#000" >12</text>
<line x1="312.50" y1="629.00" x2="316.50" y2="629.00" stroke="#000" stroke-width="1" />
<text x="310.20" y="631.60" font-size="7.2" font-weight="bold" text-anchor="end" fill="#000" >8</text>
<line x1="312.50" y1="639.80" x2="316.50" y2="639.80" stroke="#000" stroke-width="1" />
<text x="310.20" y="642.40" font-size="7.2" font-weight="bold" text-anchor="end" fill="#000" >4</text>
<line x1="312.50" y1="650.60" x2="316.50" y2="650.60" stroke="#000" stroke-width="1" />
<text x="310.20" y="653.20" font-size="7.2" font-weight="bold" text-anchor="end" fill="#000" >0</text>
<line x1="316.00" y1="655.40" x2="432.50" y2="655.40" stroke="#000" stroke-width="1" />
<line x1="325.40" y1="655.40" x2="325.40" y2="658.60" stroke="#000" stroke-width="1" />
<text x="327.90" y="666.40" font-size="8" font-weight="bold" text-anchor="end" fill="#000" transform="rotate(-45 327.90 666.40)" >Colorectal</text>
<line x1="339.25" y1="655.40" x2="339.25" y2="658.60" stroke="#000" stroke-width="1" />
<text x="341.75" y="666.40" font-size="8" font-weight="bold" text-anchor="end" fill="#000" transform="rotate(-45 341.75 666.40)" >NSCLC</text>
<line x1="353.10" y1="655.40" x2="353.10" y2="658.60" stroke="#000" stroke-width="1" />
<text x="355.60" y="666.40" font-size="8" font-weight="bold" text-anchor="end" fill="#000" transform="rotate(-45 355.60 666.40)" >Renal</text>
<line x1="366.95" y1="655.40" x2="366.95" y2="658.60" stroke="#000" stroke-width="1" />
<text x="369.45" y="666.40" font-size="8" font-weight="bold" text-anchor="end" fill="#000" transform="rotate(-45 369.45 666.40)" >Gastric</text>
<line x1="380.80" y1="655.40" x2="380.80" y2="658.60" stroke="#000" stroke-width="1" />
<text x="383.30" y="666.40" font-size="8" font-weight="bold" text-anchor="end" fill="#000" transform="rotate(-45 383.30 666.40)" >H&amp;N</text>
<line x1="394.65" y1="655.40" x2="394.65" y2="658.60" stroke="#000" stroke-width="1" />
<text x="397.15" y="666.40" font-size="8" font-weight="bold" text-anchor="end" fill="#000" transform="rotate(-45 397.15 666.40)" >Endometrial</text>
<line x1="408.50" y1="655.40" x2="408.50" y2="658.60" stroke="#000" stroke-width="1" />
<text x="411.00" y="666.40" font-size="8" font-weight="bold" text-anchor="end" fill="#000" transform="rotate(-45 411.00 666.40)" >Ovarian</text>
<line x1="422.35" y1="655.40" x2="422.35" y2="658.60" stroke="#000" stroke-width="1" />
<text x="424.85" y="666.40" font-size="8" font-weight="bold" text-anchor="end" fill="#000" transform="rotate(-45 424.85 666.40)" >Melanoma</text>
<text x="289.30" y="604.00" font-size="9.7" font-weight="bold" text-anchor="middle" fill="#000" transform="rotate(-90 289.30 604.00)" >IL18 bound (ng/g)</text>
<line x1="326.00" y1="646.30" x2="431.00" y2="646.30" stroke="#e03030" stroke-width="0.8" stroke-dasharray="1.6 1.8"/>
<polygon points="434,646.3 438.5,643.8 438.5,648.8" fill="#000"/>
<line x1="438.00" y1="646.30" x2="440.80" y2="646.30" stroke="#000" stroke-width="1.1" />
<text x="482.20" y="640.20" font-size="7.8" font-weight="normal" text-anchor="middle" fill="#111" >Level required</text>
<text x="483.30" y="649.20" font-size="7.8" font-weight="normal" text-anchor="middle" fill="#111" >for functional activity</text>
<circle cx="325.97" cy="567.08" r="2.55" fill="#000"/>
<circle cx="325.97" cy="577.31" r="2.55" fill="#000"/>
<circle cx="323.27" cy="585.39" r="2.55" fill="#000"/>
<circle cx="327.85" cy="584.04" r="2.55" fill="#000"/>
<circle cx="325.43" cy="588.08" r="2.55" fill="#000"/>
<circle cx="337.28" cy="564.66" r="2.55" fill="#000"/>
<circle cx="339.43" cy="568.70" r="2.55" fill="#000"/>
<circle cx="337.28" cy="580.01" r="2.55" fill="#000"/>
<circle cx="340.78" cy="582.16" r="2.55" fill="#000"/>
<circle cx="337.28" cy="592.12" r="2.55" fill="#000"/>
<circle cx="340.78" cy="591.58" r="2.55" fill="#000"/>
<circle cx="339.43" cy="604.78" r="2.55" fill="#000"/>
<circle cx="353.43" cy="565.47" r="2.55" fill="#000"/>
<circle cx="367.16" cy="580.81" r="2.55" fill="#000"/>
<circle cx="364.47" cy="584.04" r="2.55" fill="#000"/>
<circle cx="367.16" cy="588.62" r="2.55" fill="#000"/>
<circle cx="367.16" cy="594.01" r="2.55" fill="#000"/>
<circle cx="380.62" cy="566.54" r="2.55" fill="#000"/>
<circle cx="378.47" cy="579.47" r="2.55" fill="#000"/>
<circle cx="383.32" cy="580.01" r="2.55" fill="#000"/>
<circle cx="378.47" cy="582.70" r="2.55" fill="#000"/>
<circle cx="382.51" cy="583.24" r="2.55" fill="#000"/>
<circle cx="383.32" cy="588.08" r="2.55" fill="#000"/>
<circle cx="380.36" cy="590.78" r="2.55" fill="#000"/>
<circle cx="394.63" cy="583.24" r="2.55" fill="#000"/>
<circle cx="394.63" cy="592.12" r="2.55" fill="#000"/>
<circle cx="408.27" cy="546.89" r="2.55" fill="#000"/>
<circle cx="325.43" cy="616.93" r="2.55" fill="#000"/>
<circle cx="323.27" cy="620.16" r="2.55" fill="#000"/>
<circle cx="326.77" cy="621.77" r="2.55" fill="#000"/>
<circle cx="323.27" cy="624.46" r="2.55" fill="#000"/>
<circle cx="328.12" cy="625.00" r="2.55" fill="#000"/>
<circle cx="328.12" cy="639.00" r="2.55" fill="#000"/>
<circle cx="323.27" cy="646.54" r="2.55" fill="#000"/>
<circle cx="325.97" cy="643.85" r="2.55" fill="#000"/>
<circle cx="327.85" cy="646.54" r="2.55" fill="#000"/>
<circle cx="342.12" cy="634.96" r="2.55" fill="#000"/>
<circle cx="339.43" cy="638.47" r="2.55" fill="#000"/>
<circle cx="339.43" cy="651.12" r="2.55" fill="#000"/>
<circle cx="353.43" cy="629.58" r="2.55" fill="#000"/>
<circle cx="353.43" cy="635.23" r="2.55" fill="#000"/>
<circle cx="353.43" cy="645.20" r="2.55" fill="#000"/>
<circle cx="351.55" cy="650.58" r="2.55" fill="#000"/>
<circle cx="355.58" cy="649.77" r="2.55" fill="#000"/>
<circle cx="352.89" cy="654.08" r="2.55" fill="#000"/>
<circle cx="354.78" cy="653.27" r="2.55" fill="#000"/>
<circle cx="366.35" cy="627.70" r="2.55" fill="#000"/>
<circle cx="369.05" cy="630.39" r="2.55" fill="#000"/>
<circle cx="369.59" cy="636.31" r="2.55" fill="#000"/>
<circle cx="364.47" cy="639.00" r="2.55" fill="#000"/>
<circle cx="368.24" cy="641.16" r="2.55" fill="#000"/>
<circle cx="366.89" cy="649.24" r="2.55" fill="#000"/>
<circle cx="380.62" cy="630.93" r="2.55" fill="#000"/>
<circle cx="394.81" cy="625.81" r="2.55" fill="#000"/>
<circle cx="394.81" cy="633.62" r="2.55" fill="#000"/>
<circle cx="394.81" cy="641.70" r="2.55" fill="#000"/>
<circle cx="408.27" cy="616.39" r="2.55" fill="#000"/>
<circle cx="406.93" cy="635.23" r="2.55" fill="#000"/>
<circle cx="409.08" cy="637.12" r="2.55" fill="#000"/>
<circle cx="406.93" cy="648.70" r="2.55" fill="#000"/>
<circle cx="410.16" cy="647.35" r="2.55" fill="#000"/>
<circle cx="407.73" cy="649.24" r="2.55" fill="#000"/>
<circle cx="422.27" cy="613.42" r="2.55" fill="#000"/>
<line x1="322.47" y1="621.77" x2="329.47" y2="621.77" stroke="#000" stroke-width="0.7" />
<line x1="336.74" y1="582.16" x2="342.93" y2="582.16" stroke="#000" stroke-width="0.7" />
<line x1="350.20" y1="645.20" x2="356.93" y2="645.20" stroke="#000" stroke-width="0.7" />
<line x1="363.66" y1="630.39" x2="370.93" y2="630.39" stroke="#000" stroke-width="0.7" />
<line x1="377.12" y1="580.54" x2="384.39" y2="580.54" stroke="#000" stroke-width="0.7" />
<line x1="390.77" y1="625.81" x2="399.39" y2="625.81" stroke="#000" stroke-width="0.7" />
<line x1="405.04" y1="636.31" x2="412.85" y2="636.31" stroke="#000" stroke-width="0.7" />
<line x1="417.70" y1="613.42" x2="427.12" y2="613.42" stroke="#000" stroke-width="0.7" />
</svg></body></html>
